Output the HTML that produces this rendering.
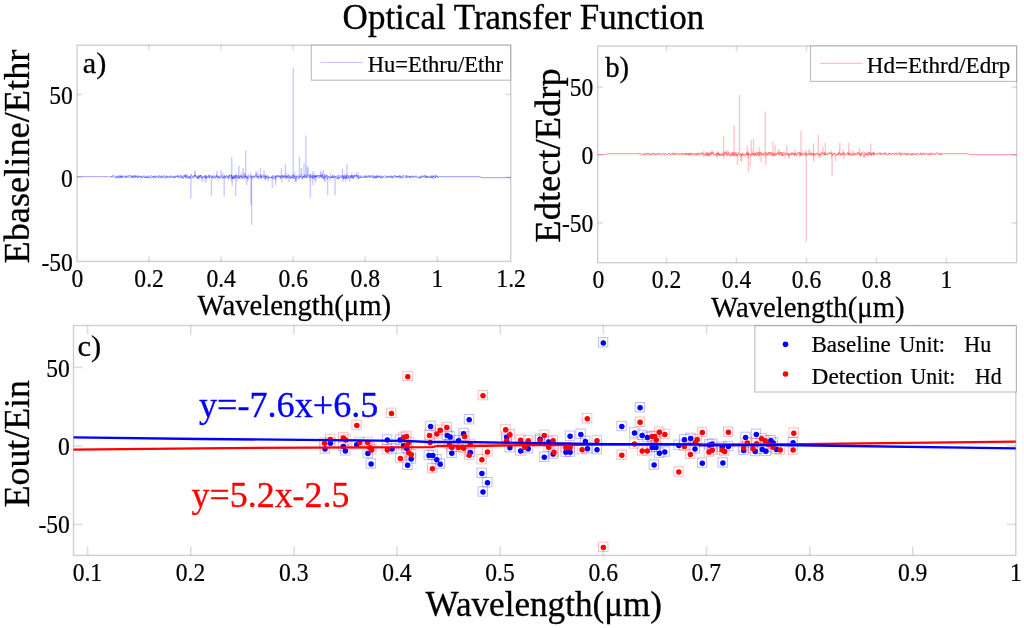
<!DOCTYPE html>
<html lang="en"><head><meta charset="utf-8"><title>Optical Transfer Function</title>
<style>
html,body{margin:0;padding:0;background:#fff;}
body{width:1024px;height:628px;overflow:hidden;}
svg text{font-family:"Liberation Serif", serif;white-space:pre;}
</style></head><body>
<svg width="1024" height="628" viewBox="0 0 1024 628" style="display:block;filter:blur(0.35px)">
<rect width="1024" height="628" fill="#fff"/>
<g id="plot-a">
<polyline points="77.1,176.6 108.0,176.6" fill="none" stroke="#0000ff" stroke-opacity="0.32" stroke-width="1.1" stroke-linejoin="round"/>
<polyline points="439.0,176.6 480.0,176.6 481.2,177.6 510.7,177.6" fill="none" stroke="#0000ff" stroke-opacity="0.32" stroke-width="1.1" stroke-linejoin="round"/>
<polyline points="108.0,176.9 108.5,176.8 108.9,176.9 109.4,176.8 109.8,177.2 110.3,176.6 110.7,177.2 111.2,176.3 111.6,177.4 112.1,177.1 112.5,175.3 113.0,175.5 113.4,176.0 113.9,176.6 114.3,176.9 114.8,176.8 115.2,176.7 115.7,178.2 116.1,177.8 116.6,176.3 117.0,176.2 117.5,177.6 117.9,177.8 118.4,178.1 118.8,175.4 119.3,178.0 119.7,178.2 120.2,175.6 120.6,177.6 121.1,175.6 121.5,178.1 122.0,175.7 122.4,175.7 122.9,177.6 123.3,177.0 123.8,175.9 124.2,175.8 124.7,175.7 125.1,176.0 125.6,178.1 126.0,176.2 126.5,176.0 126.9,177.8 127.4,175.7 127.8,176.0 128.3,177.6 128.7,176.2 129.2,175.6 129.6,176.1 130.1,176.4 130.5,178.1 131.0,177.0 131.4,175.9 131.9,178.0 132.3,176.1 132.8,177.5 133.2,175.9 133.6,177.9 134.1,176.6 134.5,175.5 135.0,176.1 135.4,176.1 135.9,177.1 136.3,175.9 136.8,175.6 137.2,177.0 137.7,177.1 138.1,178.0 138.6,175.4 139.0,176.6 139.5,175.9 139.9,177.0 140.4,176.4 140.8,178.2 141.3,177.3 141.7,175.8 142.2,177.6 142.6,177.7 143.1,176.7 143.5,176.2 144.0,175.4 144.4,177.6 144.9,177.6 145.3,177.7 145.8,176.3 146.2,178.1 146.7,176.5 147.1,178.0 147.6,177.2 148.0,177.1 148.5,175.4 148.9,178.4 149.4,177.5 149.8,177.6 150.3,176.6 150.7,175.5 151.2,175.3 151.6,176.7 152.1,177.4 152.5,177.2 153.0,176.0 153.4,177.2 153.9,176.0 154.3,177.2 154.8,177.8 155.2,177.2 155.7,176.6 156.1,177.8 156.6,176.5 157.0,176.3 157.5,176.8 157.9,177.7 158.4,177.9 158.8,176.0 159.3,176.2 159.7,176.6 160.2,176.8 160.6,177.6 161.1,176.7 161.5,175.6 162.0,175.7 162.4,177.0 162.9,177.5 163.3,176.7 163.8,175.8 164.2,175.1 164.7,176.6 165.1,177.4 165.6,178.5 166.0,175.7 166.5,175.6 166.9,177.4 167.4,176.1 167.8,177.4 168.3,177.1 168.7,176.5 169.2,178.0 169.6,178.0 170.1,175.7 170.5,177.2 171.0,176.4 171.4,177.9 171.9,178.1 172.3,177.2 172.8,177.4 173.2,177.2 173.7,176.0 174.1,178.2 174.6,176.9 175.0,176.3 175.5,177.8 175.9,175.6 176.4,176.9 176.8,176.8 177.3,175.2 177.7,175.6 178.2,177.8 178.6,175.5 179.1,177.6 179.5,177.5 180.0,176.8 180.4,174.8 180.9,176.9 181.3,177.9 181.8,176.9 182.2,177.1 182.7,176.2 183.1,178.7 183.6,178.5 184.0,176.9 184.5,175.4 184.9,176.8 185.4,174.5 185.8,176.9 186.3,178.3 186.7,176.8 187.2,174.7 187.6,176.4 188.1,178.8 188.5,176.7 189.0,176.5 189.4,178.7 189.9,175.9 190.3,177.4 190.8,175.0 191.2,174.5 191.7,175.5 192.1,175.9 192.6,177.4 193.0,177.9 193.5,176.9 193.9,175.3 194.4,176.5 194.8,176.4 195.3,175.2 195.7,177.4 196.2,176.9 196.6,177.3 197.1,175.5 197.5,178.3 198.0,175.9 198.4,178.8 198.9,179.2 199.3,175.0 199.8,177.9 200.2,174.9 200.7,176.4 201.1,175.0 201.6,177.7 202.0,177.3 202.5,178.2 202.9,176.8 203.4,176.8 203.8,175.9 204.3,175.6 204.7,176.9 205.2,175.4 205.6,175.6 206.1,178.8 206.5,175.2 207.0,178.6 207.4,177.9 207.9,176.7 208.3,176.5 208.8,174.8 209.2,178.2 209.7,176.6 210.1,176.4 210.6,175.4 211.0,174.8 211.5,178.0 211.9,178.3 212.4,176.4 212.8,176.8 213.3,178.0 213.7,178.5 214.2,177.9 214.6,176.4 215.1,178.3 215.5,177.9 216.0,176.4 216.4,175.1 216.9,176.7 217.3,177.3 217.8,175.9 218.2,177.4 218.7,177.4 219.1,176.9 219.6,178.5 220.0,177.5 220.5,178.5 220.9,177.8 221.4,176.4 221.8,175.5 222.3,175.1 222.7,178.5 223.2,176.8 223.6,177.1 224.1,177.4 224.5,175.0 225.0,177.9 225.4,178.6 225.9,176.7 226.3,176.8 226.8,174.9 227.2,176.5 227.7,177.2 228.1,175.9 228.6,177.1 229.0,177.7 229.5,174.7 229.9,174.9 230.4,177.9 230.8,178.5 231.3,174.9 231.7,178.7 232.2,178.5 232.6,176.7 233.1,175.7 233.5,178.7 234.0,176.7 234.4,178.1 234.9,175.2 235.3,176.6 235.8,174.9 236.2,175.2 236.7,177.5 237.1,175.8 237.6,176.5 238.0,176.9 238.5,178.7 238.9,175.7 239.4,178.5 239.8,177.3 240.3,175.8 240.7,177.1 241.2,177.4 241.6,175.5 242.1,178.8 242.5,178.4 243.0,176.2 243.4,177.1 243.9,176.9 244.3,175.7 244.8,176.9 245.2,176.5 245.7,176.1 246.1,177.4 246.6,175.7 247.0,177.6 247.5,177.5 247.9,176.6 248.4,177.6 248.8,177.2 249.3,176.3 249.7,177.4 250.2,176.6 250.6,175.8 251.1,175.7 251.5,177.0 252.0,177.3 252.4,177.5 252.9,176.1 253.3,175.7 253.8,177.4 254.2,176.2 254.7,176.4 255.1,176.5 255.6,177.3 256.0,177.9 256.5,177.9 256.9,177.6 257.4,176.3 257.8,177.9 258.3,176.2 258.7,176.5 259.2,176.5 259.6,176.0 260.1,177.6 260.5,177.7 261.0,176.0 261.4,177.8 261.9,175.6 262.3,176.9 262.8,178.0 263.2,177.6 263.7,176.9 264.1,175.7 264.6,177.4 265.0,175.7 265.5,175.9 265.9,177.2 266.4,176.1 266.8,176.9 267.3,176.5 267.7,178.0 268.2,176.8 268.6,177.4 269.1,177.9 269.5,177.6 270.0,177.7 270.4,177.7 270.9,178.0 271.3,176.9 271.8,177.6 272.2,176.6 272.7,177.4 273.1,176.5 273.6,176.0 274.0,176.3 274.5,175.7 274.9,175.8 275.4,177.5 275.8,175.7 276.3,177.0 276.7,175.6 277.2,176.0 277.6,176.1 278.1,177.0 278.5,176.0 279.0,176.0 279.4,176.3 279.9,177.6 280.3,176.2 280.8,177.9 281.2,176.9 281.7,176.8 282.1,175.6 282.6,177.6 283.0,176.9 283.5,176.2 283.9,177.2 284.4,175.5 284.8,176.5 285.3,177.4 285.7,175.9 286.2,176.3 286.6,177.8 287.1,177.2 287.5,176.2 288.0,175.9 288.4,175.5 288.9,177.7 289.3,175.7 289.8,177.4 290.2,176.7 290.7,178.0 291.1,177.7 291.6,177.5 292.0,177.9 292.5,177.6 292.9,176.9 293.4,175.9 293.8,176.3 294.3,175.7 294.7,176.7 295.2,176.4 295.6,175.8 296.1,176.7 296.5,177.7 297.0,175.5 297.4,177.3 297.9,177.0 298.3,175.5 298.8,177.6 299.2,177.1 299.7,176.5 300.1,176.3 300.6,176.5 301.0,176.2 301.5,177.4 301.9,177.9 302.4,177.4 302.8,177.6 303.3,175.9 303.7,177.3 304.2,176.0 304.6,177.7 305.1,175.7 305.5,175.9 306.0,176.6 306.4,177.9 306.9,176.8 307.3,177.5 307.8,176.5 308.2,176.6 308.7,177.5 309.1,177.8 309.6,177.2 310.0,176.3 310.5,175.5 310.9,176.8 311.4,177.9 311.8,175.6 312.3,178.2 312.7,176.3 313.2,175.6 313.6,178.5 314.1,177.5 314.5,175.8 315.0,177.2 315.4,175.4 315.9,177.1 316.3,176.2 316.8,176.3 317.2,175.5 317.7,175.6 318.1,176.9 318.6,177.0 319.0,178.2 319.5,177.9 319.9,175.5 320.4,176.1 320.8,175.9 321.3,177.9 321.7,177.0 322.2,175.2 322.6,178.5 323.1,177.3 323.5,177.4 324.0,176.4 324.4,177.8 324.9,176.7 325.3,176.5 325.8,175.8 326.2,176.1 326.7,176.3 327.1,175.4 327.6,175.7 328.0,177.1 328.5,176.5 328.9,177.4 329.4,177.6 329.8,178.3 330.3,177.9 330.7,176.6 331.2,178.0 331.6,176.9 332.1,178.0 332.5,175.5 333.0,178.0 333.4,177.1 333.9,176.2 334.3,175.5 334.8,176.6 335.2,176.5 335.7,177.4 336.1,176.0 336.6,176.5 337.0,175.5 337.5,178.2 337.9,177.9 338.4,177.7 338.8,177.5 339.3,178.0 339.7,177.7 340.2,176.9 340.6,175.3 341.1,176.2 341.5,175.5 342.0,177.7 342.4,176.4 342.9,175.4 343.3,175.8 343.8,179.0 344.2,176.7 344.7,175.8 345.1,178.8 345.6,178.5 346.0,176.7 346.5,178.7 346.9,175.3 347.4,175.2 347.8,174.5 348.3,178.0 348.7,178.8 349.2,177.9 349.6,177.8 350.1,176.5 350.5,175.4 351.0,177.9 351.4,175.2 351.9,177.6 352.3,176.2 352.8,178.8 353.2,175.4 353.7,179.0 354.1,175.7 354.6,174.7 355.0,176.5 355.5,177.0 355.9,177.3 356.4,175.5 356.8,174.7 357.3,178.1 357.7,175.7 358.2,175.2 358.6,179.3 359.1,177.7 359.5,178.4 360.0,175.6 360.4,177.3 360.9,177.3 361.3,176.9 361.8,177.9 362.2,176.9 362.7,175.8 363.1,175.7 363.6,175.9 364.0,177.7 364.5,177.7 364.9,176.8 365.4,177.1 365.8,175.3 366.3,177.5 366.7,178.0 367.2,175.7 367.6,176.6 368.1,176.0 368.5,175.4 369.0,177.0 369.4,177.8 369.9,175.6 370.3,175.3 370.8,177.2 371.2,176.0 371.7,175.4 372.1,175.7 372.6,175.7 373.0,177.9 373.5,175.3 373.9,176.4 374.4,178.4 374.8,176.8 375.3,178.4 375.7,176.7 376.2,175.3 376.6,178.1 377.1,176.4 377.5,176.6 378.0,175.3 378.4,177.7 378.9,175.9 379.3,177.0 379.8,176.7 380.2,176.4 380.7,178.4 381.1,175.3 381.6,177.3 382.0,176.3 382.5,178.0 382.9,178.1 383.4,176.4 383.8,176.4 384.3,175.9 384.7,175.8 385.2,175.7 385.6,175.9 386.1,176.2 386.5,178.4 387.0,178.0 387.4,176.4 387.9,177.4 388.3,176.1 388.8,176.2 389.2,177.9 389.7,176.2 390.1,175.9 390.6,176.4 391.0,177.4 391.5,175.6 391.9,176.5 392.4,177.8 392.8,177.5 393.3,175.7 393.7,176.1 394.2,175.9 394.6,175.6 395.1,176.6 395.5,175.9 396.0,176.2 396.4,177.2 396.9,176.1 397.3,177.3 397.8,176.5 398.2,176.1 398.7,176.4 399.1,175.6 399.6,177.0 400.0,178.5 400.5,177.4 400.9,175.8 401.4,177.4 401.8,178.1 402.3,177.3 402.7,176.5 403.2,175.2 403.6,176.2 404.1,176.0 404.5,176.4 405.0,175.6 405.4,175.9 405.9,176.2 406.3,175.5 406.8,177.5 407.2,177.5 407.7,176.4 408.1,176.5 408.6,176.8 409.0,176.7 409.5,176.1 409.9,177.9 410.4,176.1 410.8,175.9 411.3,177.1 411.7,176.4 412.2,178.1 412.6,177.2 413.1,176.5 413.5,176.1 414.0,177.9 414.4,178.0 414.9,176.8 415.3,176.5 415.8,176.0 416.2,176.2 416.7,176.2 417.1,176.4 417.6,176.8 418.0,177.0 418.5,177.0 418.9,178.4 419.4,176.3 419.8,176.2 420.3,177.5 420.7,178.4 421.2,175.6 421.6,176.8 422.1,176.4 422.5,177.7 423.0,175.9 423.4,176.2 423.9,176.8 424.3,175.3 424.8,175.4 425.2,175.5 425.7,177.7 426.1,175.6 426.6,178.1 427.0,176.0 427.5,177.8 427.9,177.5 428.4,177.5 428.8,176.2 429.3,178.0 429.7,177.0 430.2,177.5 430.6,177.9 431.1,175.5 431.5,177.4 432.0,175.7 432.4,178.4 432.9,175.5 433.3,176.5 433.8,176.4 434.2,178.5 434.7,177.6 435.1,175.2 435.6,177.6 436.0,175.5 436.5,175.1 436.9,176.7 437.4,176.1 437.8,178.0 438.3,176.4 438.7,177.7" fill="none" stroke="#0000ff" stroke-opacity="0.3" stroke-width="0.9" stroke-linejoin="round"/>
<polyline points="110.5,177.0 111.1,176.4 111.6,176.6 112.2,177.3 112.8,177.0 113.3,175.9 113.9,175.9 114.5,175.6 115.1,175.7 115.6,176.4 116.2,177.7 116.8,177.6 117.3,176.0 117.9,177.7 118.5,176.7 119.0,176.4 119.6,176.1 120.2,175.9 120.8,177.4 121.3,176.6 121.9,176.8 122.5,175.9 123.0,177.7 123.6,177.1 124.2,176.5 124.7,177.1 125.3,176.3 125.9,176.8 126.5,176.8 127.0,176.5 127.6,175.8 128.2,176.4 128.7,175.3 129.3,175.6 129.9,175.1 130.4,176.2 131.0,175.2 131.6,175.7 132.2,176.7 132.7,176.7 133.3,175.6 133.9,176.3 134.4,177.7 135.0,175.0 135.6,177.8 136.1,175.9 136.7,177.0 137.3,177.7 137.9,175.9 138.4,177.3 139.0,177.1 139.6,176.9 140.1,177.0 140.7,177.6 141.3,176.2 141.8,177.5 142.4,177.6 143.0,177.2 143.6,176.3 144.1,176.3 144.7,177.2 145.3,177.5 145.8,176.3 146.4,177.7 147.0,177.0 147.5,177.7 148.1,176.6 148.7,177.6 149.3,177.0 149.8,176.6 150.4,176.9 151.0,178.2 151.5,178.2 152.1,176.9 152.7,176.4 153.2,176.3 153.8,178.3 154.4,176.9 155.0,175.5 155.5,177.5 156.1,175.9 156.7,176.2 157.2,175.6 157.8,176.2 158.4,177.7 158.9,178.3 159.5,175.2 160.1,176.6 160.7,177.4 161.2,175.9 161.8,178.3 162.4,176.2 162.9,176.6 163.5,177.9 164.1,177.3 164.6,176.7 165.2,177.7 165.8,176.7 166.4,177.7 166.9,176.9 167.5,176.5 168.1,177.2 168.6,176.9 169.2,176.4 169.8,176.3 170.3,176.4 170.9,175.8 171.5,176.9 172.1,175.6 172.6,176.2 173.2,177.1 173.8,177.8 174.3,176.3 174.9,177.2 175.5,177.1 176.0,176.6 176.6,176.2 177.2,176.5 177.8,176.5 178.3,175.9 178.9,176.2 179.5,176.9 180.0,178.0 180.6,177.9 181.2,177.6 181.7,175.5 182.3,178.0 182.9,178.1 183.5,175.2 184.0,175.7 184.6,176.1 185.2,175.7 185.7,178.0 186.3,175.5 186.9,176.9 187.4,176.9 188.0,177.8 188.6,177.3 189.2,177.2 189.7,176.5 190.3,177.5 190.9,178.2 191.4,178.0 192.0,178.3 192.6,176.6 193.1,177.2 193.7,177.9 194.3,175.3 194.9,175.4 195.4,175.2 196.0,175.5 196.6,177.2 197.1,178.3 197.7,178.3 198.3,178.1 198.8,175.9 199.4,176.6 200.0,176.2 200.6,175.5 201.1,178.2 201.7,177.6 202.3,176.4 202.8,178.1 203.4,177.3 204.0,176.7 204.5,177.8 205.1,176.3 205.7,177.9 206.3,176.8 206.8,177.2 207.4,176.4 208.0,176.4 208.5,175.6 209.1,178.2 209.7,176.0 210.2,175.6 210.8,177.2 211.4,176.9 212.0,177.0 212.5,176.2 213.1,178.3 213.7,176.8 214.2,175.8 214.8,175.9 215.4,176.4 215.9,178.2 216.5,176.3 217.1,176.5 217.7,177.3 218.2,177.3 218.8,176.0 219.4,178.3 219.9,175.8 220.5,176.1 221.1,176.0 221.6,177.2 222.2,177.1 222.8,178.2 223.4,178.1 223.9,176.7 224.5,177.5 225.1,176.0 225.6,177.5 226.2,177.3 226.8,177.5 227.3,176.2 227.9,178.3 228.5,179.2 229.1,175.0 229.6,176.4 230.2,175.6 230.8,174.5 231.3,174.9 231.9,175.1 232.5,178.5 233.0,176.8 233.6,179.0 234.2,175.4 234.8,178.9 235.3,176.9 235.9,175.2 236.5,178.1 237.0,178.3 237.6,177.0 238.2,174.8 238.7,175.2 239.3,178.5 239.9,176.5 240.5,176.3 241.0,175.2 241.6,176.9 242.2,178.1 242.7,177.0 243.3,178.1 243.9,178.4 244.4,176.9 245.0,179.1 245.6,176.4 246.2,178.0 246.7,178.1 247.3,178.6 247.9,176.1 248.4,174.8 249.0,174.6 249.6,175.1 250.1,175.0 250.7,177.0 251.3,178.4 251.9,179.1 252.4,176.3 253.0,175.8 253.6,177.8 254.1,178.4 254.7,175.8 255.3,176.5 255.8,174.5 256.4,176.1 257.0,176.8 257.6,176.0 258.1,177.0 258.7,179.1 259.3,175.8 259.8,175.9 260.4,174.7 261.0,178.9 261.5,177.8 262.1,175.0 262.7,174.7 263.3,176.5 263.8,177.7 264.4,178.1 265.0,178.8 265.5,174.7 266.1,178.6 266.7,176.7 267.2,175.5 267.8,174.9 268.4,178.7 269.0,176.9 269.5,176.6 270.1,177.8 270.7,178.5 271.2,177.2 271.8,176.7 272.4,175.1 272.9,176.4 273.5,177.4 274.1,179.1 274.7,176.9 275.2,176.3 275.8,179.0 276.4,177.5 276.9,175.1 277.5,175.2 278.1,177.2 278.6,175.5 279.2,176.7 279.8,175.2 280.4,178.9 280.9,177.7 281.5,175.1 282.1,176.8 282.6,175.1 283.2,177.0 283.8,178.5 284.3,174.8 284.9,175.7 285.5,178.6 286.1,176.4 286.6,178.4 287.2,175.4 287.8,178.5 288.3,174.7 288.9,174.4 289.5,175.1 290.0,175.4 290.6,178.8 291.2,177.0 291.8,175.2 292.3,178.2 292.9,174.5 293.5,179.0 294.0,174.8 294.6,178.7 295.2,177.9 295.7,177.6 296.3,177.3 296.9,178.6 297.5,179.1 298.0,179.0 298.6,179.2 299.2,175.7 299.7,178.6 300.3,178.1 300.9,174.4 301.4,174.4 302.0,178.9 302.6,178.5 303.2,176.3 303.7,177.5 304.3,174.8 304.9,175.2 305.4,177.7 306.0,178.4 306.6,175.8 307.1,174.6 307.7,175.9 308.3,175.9 308.9,175.2 309.4,174.7 310.0,177.4 310.6,174.4 311.1,176.1 311.7,176.1 312.3,176.4 312.8,174.7 313.4,178.8 314.0,179.1 314.6,177.9 315.1,174.9 315.7,177.7 316.3,175.1 316.8,177.0 317.4,175.4 318.0,177.4 318.5,174.8 319.1,176.1 319.7,175.1 320.3,176.8 320.8,175.3 321.4,176.5 322.0,174.7 322.5,174.7 323.1,178.1 323.7,179.0 324.2,176.4 324.8,174.8 325.4,174.6 326.0,177.6 326.5,174.7 327.1,179.0 327.7,177.2 328.2,176.7 328.8,177.2 329.4,176.3 329.9,177.2 330.5,178.1 331.1,177.9 331.7,176.7 332.2,177.9 332.8,175.1 333.4,177.4 333.9,177.1 334.5,176.5 335.1,177.3 335.6,176.5 336.2,177.7 336.8,179.1 337.4,177.7 337.9,179.1 338.5,174.7 339.1,178.3 339.6,177.9 340.2,176.6 340.8,176.6 341.3,177.8 341.9,177.7 342.5,177.0 343.1,175.3 343.6,178.5 344.2,178.5 344.8,176.3 345.3,174.8 345.9,178.1 346.5,175.4 347.0,178.7 347.6,177.5 348.2,175.8 348.8,177.6 349.3,175.7 349.9,175.5 350.5,176.6 351.0,178.3 351.6,177.3 352.2,175.0 352.7,176.5 353.3,176.3 353.9,176.3 354.5,176.8 355.0,174.9 355.6,175.8 356.2,175.2 356.7,176.1 357.3,176.8 357.9,177.8 358.4,178.3 359.0,176.8 359.6,176.2 360.2,175.5 360.7,177.8 361.3,177.1 361.9,177.3 362.4,177.5 363.0,177.0 363.6,177.7 364.1,175.9 364.7,176.5 365.3,177.6 365.9,175.8 366.4,176.3 367.0,176.5 367.6,177.6 368.1,177.5 368.7,175.8 369.3,175.8 369.8,176.5 370.4,177.4 371.0,175.8 371.6,176.1 372.1,177.5 372.7,177.0 373.3,177.7 373.8,177.0 374.4,176.2 375.0,177.3 375.5,176.3 376.1,177.9 376.7,175.9 377.3,177.7 377.8,177.8 378.4,176.2 379.0,176.2 379.5,175.9 380.1,177.7 380.7,177.4 381.2,177.1 381.8,177.7 382.4,177.2 383.0,176.7 383.5,176.4 384.1,177.1 384.7,177.6 385.2,177.9 385.8,176.5 386.4,176.5 386.9,176.2 387.5,176.1 388.1,177.2 388.7,176.9 389.2,175.7 389.8,176.6 390.4,176.8 390.9,177.3 391.5,176.3 392.1,178.4 392.6,176.2 393.2,177.1 393.8,178.2 394.4,176.0 394.9,175.3 395.5,177.0 396.1,176.5 396.6,175.9 397.2,178.0 397.8,176.0 398.3,177.2 398.9,175.4 399.5,177.4 400.1,175.6 400.6,176.6 401.2,178.2 401.8,176.8 402.3,177.3 402.9,175.9 403.5,177.0 404.0,178.3 404.6,177.6 405.2,177.9 405.8,177.8 406.3,175.5 406.9,178.2 407.5,176.2 408.0,175.5 408.6,176.8 409.2,177.7 409.7,175.9 410.3,177.6 410.9,177.7 411.5,177.2 412.0,175.7 412.6,175.7 413.2,177.0 413.7,176.4 414.3,176.4 414.9,175.7 415.4,177.1 416.0,175.7 416.6,177.8 417.2,177.3 417.7,177.9 418.3,177.5 418.9,177.5 419.4,177.8 420.0,177.7 420.6,176.5 421.1,177.7 421.7,177.0 422.3,175.7 422.9,175.8 423.4,176.2 424.0,176.0 424.6,177.4 425.1,176.0 425.7,175.7 426.3,177.3 426.8,177.1 427.4,175.9 428.0,176.2 428.6,176.7 429.1,177.5 429.7,176.6 430.3,176.0 430.8,176.6 431.4,177.6 432.0,177.9 432.5,176.9 433.1,177.4 433.7,175.7 434.3,177.2 434.8,177.5 435.4,177.7 436.0,177.2 436.5,176.4 437.1,175.9 437.7,176.3 438.2,176.2" fill="none" stroke="#0000ff" stroke-opacity="0.28" stroke-width="0.9" stroke-linejoin="round"/>
<line x1="295.3" y1="176.8" x2="295.3" y2="181.2" stroke="#0000ff" stroke-opacity="0.17" stroke-width="1.3"/>
<line x1="351.8" y1="176.8" x2="351.8" y2="172.2" stroke="#0000ff" stroke-opacity="0.17" stroke-width="1.3"/>
<line x1="322.3" y1="176.8" x2="322.3" y2="172.8" stroke="#0000ff" stroke-opacity="0.17" stroke-width="1.3"/>
<line x1="344.5" y1="176.8" x2="344.5" y2="173.6" stroke="#0000ff" stroke-opacity="0.17" stroke-width="1.3"/>
<line x1="338.7" y1="176.8" x2="338.7" y2="180.5" stroke="#0000ff" stroke-opacity="0.17" stroke-width="1.3"/>
<line x1="286.6" y1="176.8" x2="286.6" y2="172.6" stroke="#0000ff" stroke-opacity="0.17" stroke-width="1.3"/>
<line x1="257.2" y1="176.8" x2="257.2" y2="172.0" stroke="#0000ff" stroke-opacity="0.17" stroke-width="1.3"/>
<line x1="320.5" y1="176.8" x2="320.5" y2="172.5" stroke="#0000ff" stroke-opacity="0.17" stroke-width="1.3"/>
<line x1="197.7" y1="176.8" x2="197.7" y2="179.4" stroke="#0000ff" stroke-opacity="0.17" stroke-width="1.3"/>
<line x1="185.3" y1="176.8" x2="185.3" y2="174.0" stroke="#0000ff" stroke-opacity="0.17" stroke-width="1.3"/>
<line x1="223.1" y1="176.8" x2="223.1" y2="172.2" stroke="#0000ff" stroke-opacity="0.17" stroke-width="1.3"/>
<line x1="236.2" y1="176.8" x2="236.2" y2="173.1" stroke="#0000ff" stroke-opacity="0.17" stroke-width="1.3"/>
<line x1="305.0" y1="176.8" x2="305.0" y2="174.1" stroke="#0000ff" stroke-opacity="0.17" stroke-width="1.3"/>
<line x1="356.4" y1="176.8" x2="356.4" y2="171.9" stroke="#0000ff" stroke-opacity="0.17" stroke-width="1.3"/>
<line x1="343.2" y1="176.8" x2="343.2" y2="179.1" stroke="#0000ff" stroke-opacity="0.17" stroke-width="1.3"/>
<line x1="258.4" y1="176.8" x2="258.4" y2="173.9" stroke="#0000ff" stroke-opacity="0.17" stroke-width="1.3"/>
<line x1="243.7" y1="176.8" x2="243.7" y2="172.9" stroke="#0000ff" stroke-opacity="0.17" stroke-width="1.3"/>
<line x1="310.3" y1="176.8" x2="310.3" y2="173.7" stroke="#0000ff" stroke-opacity="0.17" stroke-width="1.3"/>
<line x1="329.9" y1="176.8" x2="329.9" y2="180.9" stroke="#0000ff" stroke-opacity="0.17" stroke-width="1.3"/>
<line x1="217.7" y1="176.8" x2="217.7" y2="181.0" stroke="#0000ff" stroke-opacity="0.17" stroke-width="1.3"/>
<line x1="195.1" y1="176.8" x2="195.1" y2="171.9" stroke="#0000ff" stroke-opacity="0.17" stroke-width="1.3"/>
<line x1="248.3" y1="176.8" x2="248.3" y2="179.1" stroke="#0000ff" stroke-opacity="0.17" stroke-width="1.3"/>
<line x1="324.4" y1="176.8" x2="324.4" y2="180.1" stroke="#0000ff" stroke-opacity="0.17" stroke-width="1.3"/>
<line x1="333.9" y1="176.8" x2="333.9" y2="179.1" stroke="#0000ff" stroke-opacity="0.17" stroke-width="1.3"/>
<line x1="217.0" y1="176.8" x2="217.0" y2="174.3" stroke="#0000ff" stroke-opacity="0.17" stroke-width="1.3"/>
<line x1="228.6" y1="176.8" x2="228.6" y2="180.0" stroke="#0000ff" stroke-opacity="0.17" stroke-width="1.3"/>
<line x1="247.8" y1="176.8" x2="247.8" y2="181.2" stroke="#0000ff" stroke-opacity="0.17" stroke-width="1.3"/>
<line x1="204.1" y1="176.8" x2="204.1" y2="181.4" stroke="#0000ff" stroke-opacity="0.17" stroke-width="1.3"/>
<line x1="191.5" y1="176.8" x2="191.5" y2="174.0" stroke="#0000ff" stroke-opacity="0.17" stroke-width="1.3"/>
<line x1="275.8" y1="176.8" x2="275.8" y2="181.6" stroke="#0000ff" stroke-opacity="0.17" stroke-width="1.3"/>
<line x1="245.2" y1="176.8" x2="245.2" y2="173.7" stroke="#0000ff" stroke-opacity="0.17" stroke-width="1.3"/>
<line x1="241.1" y1="176.8" x2="241.1" y2="172.4" stroke="#0000ff" stroke-opacity="0.17" stroke-width="1.3"/>
<line x1="295.9" y1="176.8" x2="295.9" y2="181.8" stroke="#0000ff" stroke-opacity="0.17" stroke-width="1.3"/>
<line x1="213.6" y1="176.8" x2="213.6" y2="174.4" stroke="#0000ff" stroke-opacity="0.17" stroke-width="1.3"/>
<line x1="291.3" y1="176.8" x2="291.3" y2="179.1" stroke="#0000ff" stroke-opacity="0.17" stroke-width="1.3"/>
<line x1="316.1" y1="176.8" x2="316.1" y2="181.3" stroke="#0000ff" stroke-opacity="0.17" stroke-width="1.3"/>
<line x1="265.7" y1="176.8" x2="265.7" y2="179.4" stroke="#0000ff" stroke-opacity="0.17" stroke-width="1.3"/>
<line x1="358.3" y1="176.8" x2="358.3" y2="172.4" stroke="#0000ff" stroke-opacity="0.17" stroke-width="1.3"/>
<line x1="244.2" y1="176.8" x2="244.2" y2="174.2" stroke="#0000ff" stroke-opacity="0.17" stroke-width="1.3"/>
<line x1="314.5" y1="176.8" x2="314.5" y2="172.8" stroke="#0000ff" stroke-opacity="0.17" stroke-width="1.3"/>
<line x1="324.5" y1="176.8" x2="324.5" y2="174.1" stroke="#0000ff" stroke-opacity="0.17" stroke-width="1.3"/>
<line x1="251.0" y1="176.8" x2="251.0" y2="172.2" stroke="#0000ff" stroke-opacity="0.17" stroke-width="1.3"/>
<line x1="237.2" y1="176.8" x2="237.2" y2="181.6" stroke="#0000ff" stroke-opacity="0.17" stroke-width="1.3"/>
<line x1="294.8" y1="176.8" x2="294.8" y2="171.9" stroke="#0000ff" stroke-opacity="0.17" stroke-width="1.3"/>
<line x1="265.3" y1="176.8" x2="265.3" y2="180.9" stroke="#0000ff" stroke-opacity="0.17" stroke-width="1.3"/>
<line x1="241.2" y1="176.8" x2="241.2" y2="179.8" stroke="#0000ff" stroke-opacity="0.17" stroke-width="1.3"/>
<line x1="256.5" y1="176.8" x2="256.5" y2="174.3" stroke="#0000ff" stroke-opacity="0.17" stroke-width="1.3"/>
<line x1="330.5" y1="176.8" x2="330.5" y2="172.8" stroke="#0000ff" stroke-opacity="0.17" stroke-width="1.3"/>
<line x1="273.4" y1="176.8" x2="273.4" y2="179.5" stroke="#0000ff" stroke-opacity="0.17" stroke-width="1.3"/>
<line x1="272.1" y1="176.8" x2="272.1" y2="179.2" stroke="#0000ff" stroke-opacity="0.17" stroke-width="1.3"/>
<line x1="325.7" y1="176.8" x2="325.7" y2="180.9" stroke="#0000ff" stroke-opacity="0.17" stroke-width="1.3"/>
<line x1="302.5" y1="176.8" x2="302.5" y2="180.0" stroke="#0000ff" stroke-opacity="0.17" stroke-width="1.3"/>
<line x1="309.7" y1="176.8" x2="309.7" y2="181.3" stroke="#0000ff" stroke-opacity="0.17" stroke-width="1.3"/>
<line x1="231.9" y1="176.8" x2="231.9" y2="181.7" stroke="#0000ff" stroke-opacity="0.17" stroke-width="1.3"/>
<line x1="245.2" y1="176.8" x2="245.2" y2="173.0" stroke="#0000ff" stroke-opacity="0.17" stroke-width="1.3"/>
<line x1="190.8" y1="176.6" x2="190.8" y2="198.4" stroke="#0000ff" stroke-opacity="0.2" stroke-width="1.5"/>
<line x1="211.4" y1="176.6" x2="211.4" y2="196.0" stroke="#0000ff" stroke-opacity="0.2" stroke-width="1.5"/>
<line x1="224.2" y1="176.6" x2="224.2" y2="196.8" stroke="#0000ff" stroke-opacity="0.2" stroke-width="1.5"/>
<line x1="231.7" y1="176.6" x2="231.7" y2="157.0" stroke="#0000ff" stroke-opacity="0.2" stroke-width="1.5"/>
<line x1="232.2" y1="176.6" x2="232.2" y2="185.7" stroke="#0000ff" stroke-opacity="0.2" stroke-width="1.5"/>
<line x1="235.7" y1="176.6" x2="235.7" y2="196.0" stroke="#0000ff" stroke-opacity="0.2" stroke-width="1.5"/>
<line x1="238.9" y1="176.6" x2="238.9" y2="165.8" stroke="#0000ff" stroke-opacity="0.2" stroke-width="1.5"/>
<line x1="245.7" y1="176.6" x2="245.7" y2="150.4" stroke="#0000ff" stroke-opacity="0.2" stroke-width="1.5"/>
<line x1="246.8" y1="176.6" x2="246.8" y2="185.0" stroke="#0000ff" stroke-opacity="0.2" stroke-width="1.5"/>
<line x1="251.6" y1="176.6" x2="251.6" y2="224.7" stroke="#0000ff" stroke-opacity="0.2" stroke-width="1.5"/>
<line x1="251.0" y1="176.6" x2="251.0" y2="205.0" stroke="#0000ff" stroke-opacity="0.2" stroke-width="1.5"/>
<line x1="272.3" y1="176.6" x2="272.3" y2="188.0" stroke="#0000ff" stroke-opacity="0.2" stroke-width="1.5"/>
<line x1="275.5" y1="176.6" x2="275.5" y2="185.0" stroke="#0000ff" stroke-opacity="0.2" stroke-width="1.5"/>
<line x1="281.4" y1="176.6" x2="281.4" y2="167.9" stroke="#0000ff" stroke-opacity="0.2" stroke-width="1.5"/>
<line x1="281.8" y1="176.6" x2="281.8" y2="182.5" stroke="#0000ff" stroke-opacity="0.2" stroke-width="1.5"/>
<line x1="285.4" y1="176.6" x2="285.4" y2="164.2" stroke="#0000ff" stroke-opacity="0.2" stroke-width="1.5"/>
<line x1="293.3" y1="176.6" x2="293.3" y2="67.5" stroke="#0000ff" stroke-opacity="0.2" stroke-width="1.5"/>
<line x1="299.5" y1="176.6" x2="299.5" y2="156.7" stroke="#0000ff" stroke-opacity="0.2" stroke-width="1.5"/>
<line x1="301.5" y1="176.6" x2="301.5" y2="167.9" stroke="#0000ff" stroke-opacity="0.2" stroke-width="1.5"/>
<line x1="304.0" y1="176.6" x2="304.0" y2="163.1" stroke="#0000ff" stroke-opacity="0.2" stroke-width="1.5"/>
<line x1="305.9" y1="176.6" x2="305.9" y2="135.6" stroke="#0000ff" stroke-opacity="0.2" stroke-width="1.5"/>
<line x1="307.2" y1="176.6" x2="307.2" y2="165.8" stroke="#0000ff" stroke-opacity="0.2" stroke-width="1.5"/>
<line x1="308.3" y1="176.6" x2="308.3" y2="167.9" stroke="#0000ff" stroke-opacity="0.2" stroke-width="1.5"/>
<line x1="310.4" y1="176.6" x2="310.4" y2="197.6" stroke="#0000ff" stroke-opacity="0.2" stroke-width="1.5"/>
<line x1="312.6" y1="176.6" x2="312.6" y2="185.0" stroke="#0000ff" stroke-opacity="0.2" stroke-width="1.5"/>
<line x1="313.0" y1="176.6" x2="313.0" y2="171.0" stroke="#0000ff" stroke-opacity="0.2" stroke-width="1.5"/>
<line x1="315.2" y1="176.6" x2="315.2" y2="182.5" stroke="#0000ff" stroke-opacity="0.2" stroke-width="1.5"/>
<line x1="321.0" y1="176.6" x2="321.0" y2="170.6" stroke="#0000ff" stroke-opacity="0.2" stroke-width="1.5"/>
<line x1="323.4" y1="176.6" x2="323.4" y2="169.8" stroke="#0000ff" stroke-opacity="0.2" stroke-width="1.5"/>
<line x1="324.5" y1="176.6" x2="324.5" y2="182.5" stroke="#0000ff" stroke-opacity="0.2" stroke-width="1.5"/>
<line x1="327.6" y1="176.6" x2="327.6" y2="195.3" stroke="#0000ff" stroke-opacity="0.2" stroke-width="1.5"/>
<line x1="335.0" y1="176.6" x2="335.0" y2="195.3" stroke="#0000ff" stroke-opacity="0.2" stroke-width="1.5"/>
<line x1="342.5" y1="176.6" x2="342.5" y2="168.7" stroke="#0000ff" stroke-opacity="0.2" stroke-width="1.5"/>
<line x1="342.9" y1="176.6" x2="342.9" y2="181.7" stroke="#0000ff" stroke-opacity="0.2" stroke-width="1.5"/>
<line x1="345.7" y1="176.6" x2="345.7" y2="181.7" stroke="#0000ff" stroke-opacity="0.2" stroke-width="1.5"/>
<line x1="347.0" y1="176.6" x2="347.0" y2="164.2" stroke="#0000ff" stroke-opacity="0.2" stroke-width="1.5"/>
<line x1="349.7" y1="176.6" x2="349.7" y2="181.7" stroke="#0000ff" stroke-opacity="0.2" stroke-width="1.5"/>
<line x1="260.5" y1="176.6" x2="260.5" y2="168.0" stroke="#0000ff" stroke-opacity="0.2" stroke-width="1.5"/>
<line x1="264.0" y1="176.6" x2="264.0" y2="170.0" stroke="#0000ff" stroke-opacity="0.2" stroke-width="1.5"/>
<line x1="268.0" y1="176.6" x2="268.0" y2="181.0" stroke="#0000ff" stroke-opacity="0.2" stroke-width="1.5"/>
<line x1="195.0" y1="176.6" x2="195.0" y2="170.0" stroke="#0000ff" stroke-opacity="0.2" stroke-width="1.5"/>
<line x1="217.0" y1="176.6" x2="217.0" y2="171.0" stroke="#0000ff" stroke-opacity="0.2" stroke-width="1.5"/>
<line x1="221.0" y1="176.6" x2="221.0" y2="170.0" stroke="#0000ff" stroke-opacity="0.2" stroke-width="1.5"/>
<line x1="202.0" y1="176.6" x2="202.0" y2="182.0" stroke="#0000ff" stroke-opacity="0.2" stroke-width="1.5"/>
<line x1="206.0" y1="176.6" x2="206.0" y2="183.0" stroke="#0000ff" stroke-opacity="0.2" stroke-width="1.5"/>
<line x1="243.0" y1="176.6" x2="243.0" y2="168.0" stroke="#0000ff" stroke-opacity="0.2" stroke-width="1.5"/>
<line x1="256.0" y1="176.6" x2="256.0" y2="171.0" stroke="#0000ff" stroke-opacity="0.2" stroke-width="1.5"/>
<line x1="289.0" y1="176.6" x2="289.0" y2="182.0" stroke="#0000ff" stroke-opacity="0.2" stroke-width="1.5"/>
<line x1="296.0" y1="176.6" x2="296.0" y2="182.0" stroke="#0000ff" stroke-opacity="0.2" stroke-width="1.5"/>
<rect x="77.1" y="45.2" width="433.60" height="216.20" fill="none" stroke="#000" stroke-opacity="0.19" stroke-width="1.4"/>
<line x1="149.08" y1="261.40" x2="149.08" y2="256.20" stroke="#000" stroke-opacity="0.13" stroke-width="1.6"/>
<line x1="149.08" y1="45.20" x2="149.08" y2="50.40" stroke="#000" stroke-opacity="0.13" stroke-width="1.6"/>
<line x1="221.16" y1="261.40" x2="221.16" y2="256.20" stroke="#000" stroke-opacity="0.13" stroke-width="1.6"/>
<line x1="221.16" y1="45.20" x2="221.16" y2="50.40" stroke="#000" stroke-opacity="0.13" stroke-width="1.6"/>
<line x1="293.24" y1="261.40" x2="293.24" y2="256.20" stroke="#000" stroke-opacity="0.13" stroke-width="1.6"/>
<line x1="293.24" y1="45.20" x2="293.24" y2="50.40" stroke="#000" stroke-opacity="0.13" stroke-width="1.6"/>
<line x1="365.32" y1="261.40" x2="365.32" y2="256.20" stroke="#000" stroke-opacity="0.13" stroke-width="1.6"/>
<line x1="365.32" y1="45.20" x2="365.32" y2="50.40" stroke="#000" stroke-opacity="0.13" stroke-width="1.6"/>
<line x1="437.40" y1="261.40" x2="437.40" y2="256.20" stroke="#000" stroke-opacity="0.13" stroke-width="1.6"/>
<line x1="437.40" y1="45.20" x2="437.40" y2="50.40" stroke="#000" stroke-opacity="0.13" stroke-width="1.6"/>
<line x1="77.10" y1="94.45" x2="82.30" y2="94.45" stroke="#000" stroke-opacity="0.13" stroke-width="1.6"/>
<line x1="510.70" y1="94.45" x2="505.50" y2="94.45" stroke="#000" stroke-opacity="0.13" stroke-width="1.6"/>
<line x1="77.10" y1="177.20" x2="82.30" y2="177.20" stroke="#000" stroke-opacity="0.13" stroke-width="1.6"/>
<line x1="510.70" y1="177.20" x2="505.50" y2="177.20" stroke="#000" stroke-opacity="0.13" stroke-width="1.6"/>
</g>
<g id="plot-b">
<polyline points="597.7,154.5 606.5,154.5 607.5,153.6 638.5,153.6" fill="none" stroke="#ff0000" stroke-opacity="0.34" stroke-width="1.1" stroke-linejoin="round"/>
<polyline points="943.3,153.6 968.0,153.6 969.2,154.6 1016.6,154.6" fill="none" stroke="#ff0000" stroke-opacity="0.34" stroke-width="1.1" stroke-linejoin="round"/>
<polyline points="638.5,155.3 639.0,152.8 639.4,153.8 639.9,153.0 640.3,153.8 640.8,153.9 641.2,154.4 641.7,154.0 642.1,153.7 642.6,154.5 643.0,154.3 643.5,154.9 643.9,154.5 644.4,154.1 644.8,153.7 645.3,154.0 645.7,154.2 646.2,154.3 646.6,153.4 647.1,154.6 647.5,153.3 648.0,153.1 648.4,154.1 648.9,153.7 649.3,153.6 649.8,154.5 650.2,153.6 650.7,154.5 651.1,154.6 651.6,154.1 652.0,154.2 652.5,153.4 652.9,153.2 653.4,153.1 653.8,154.3 654.3,154.6 654.7,154.1 655.2,154.5 655.6,154.9 656.1,153.4 656.5,153.9 657.0,154.8 657.4,153.5 657.9,154.1 658.3,154.1 658.8,153.5 659.2,154.7 659.7,153.7 660.1,154.6 660.6,154.3 661.0,154.4 661.5,154.3 661.9,153.6 662.4,154.5 662.8,154.1 663.3,153.3 663.7,153.7 664.2,154.6 664.6,154.8 665.1,154.1 665.5,153.5 666.0,153.9 666.4,154.4 666.9,154.7 667.3,154.9 667.8,154.4 668.2,153.9 668.7,153.0 669.1,154.0 669.6,154.1 670.0,154.1 670.5,155.0 670.9,154.9 671.4,154.0 671.8,154.4 672.3,153.5 672.7,153.6 673.2,155.1 673.6,153.7 674.1,154.8 674.5,154.1 675.0,153.5 675.4,153.3 675.9,154.9 676.3,153.0 676.8,153.1 677.2,153.9 677.7,153.4 678.1,153.4 678.6,154.3 679.0,154.8 679.5,153.7 679.9,154.8 680.4,154.6 680.8,154.4 681.3,153.0 681.7,154.4 682.2,155.2 682.6,153.2 683.1,152.9 683.5,153.9 684.0,154.2 684.4,155.0 684.9,154.3 685.3,152.9 685.8,155.1 686.2,153.8 686.7,154.4 687.1,155.1 687.6,153.6 688.0,154.7 688.5,153.4 688.9,155.4 689.4,152.9 689.8,154.8 690.3,152.6 690.7,154.7 691.2,154.1 691.6,153.7 692.1,153.5 692.5,155.0 693.0,153.7 693.4,153.5 693.9,153.8 694.3,155.0 694.8,155.4 695.2,154.4 695.7,154.3 696.1,155.4 696.6,153.8 697.0,155.0 697.5,153.7 697.9,152.6 698.4,155.4 698.8,154.6 699.3,153.3 699.7,154.3 700.2,154.4 700.6,154.2 701.1,152.3 701.5,152.6 702.0,153.2 702.4,155.0 702.9,154.1 703.3,153.4 703.8,153.1 704.2,154.0 704.7,155.2 705.1,155.9 705.6,154.3 706.0,152.4 706.5,156.0 706.9,152.2 707.4,156.1 707.8,155.5 708.3,152.1 708.7,155.0 709.2,154.6 709.6,153.0 710.1,156.2 710.5,155.7 711.0,155.1 711.4,152.1 711.9,152.5 712.3,152.0 712.8,152.4 713.2,151.7 713.7,155.2 714.1,154.3 714.6,154.6 715.0,155.3 715.5,154.4 715.9,155.8 716.4,155.6 716.8,153.2 717.3,154.5 717.7,152.7 718.2,155.3 718.6,152.4 719.1,156.2 719.5,153.7 720.0,155.4 720.4,154.2 720.9,156.0 721.3,155.5 721.8,154.5 722.2,155.0 722.7,155.9 723.1,154.0 723.6,152.7 724.0,156.2 724.5,152.2 724.9,153.4 725.4,153.8 725.8,154.2 726.3,151.9 726.7,156.2 727.2,155.1 727.6,154.3 728.1,155.2 728.5,152.0 729.0,152.9 729.4,153.8 729.9,153.3 730.3,153.7 730.8,155.3 731.2,154.8 731.7,155.1 732.1,155.7 732.6,151.8 733.0,155.3 733.5,152.2 733.9,155.2 734.4,156.1 734.8,154.6 735.3,152.4 735.7,154.1 736.2,156.1 736.6,154.5 737.1,156.0 737.5,155.1 738.0,153.6 738.4,152.4 738.9,153.4 739.3,154.0 739.8,155.4 740.2,154.5 740.7,153.3 741.1,154.4 741.6,155.6 742.0,155.3 742.5,152.7 742.9,154.6 743.4,155.4 743.8,154.6 744.3,155.6 744.7,154.7 745.2,154.8 745.6,154.1 746.1,155.1 746.5,153.6 747.0,154.9 747.4,152.6 747.9,152.8 748.3,155.2 748.8,152.7 749.2,153.5 749.7,154.8 750.1,154.8 750.6,155.1 751.0,155.3 751.5,153.3 751.9,154.9 752.4,154.7 752.8,155.1 753.3,154.5 753.7,153.9 754.2,155.3 754.6,153.8 755.1,155.2 755.5,153.0 756.0,154.4 756.4,156.3 756.9,155.2 757.3,152.8 757.8,152.4 758.2,153.7 758.7,152.2 759.1,153.5 759.6,155.6 760.0,152.9 760.5,153.1 760.9,154.5 761.4,153.0 761.8,152.9 762.3,155.4 762.7,154.1 763.2,154.8 763.6,154.8 764.1,153.4 764.5,154.4 765.0,155.3 765.4,154.9 765.9,152.6 766.3,152.6 766.8,152.8 767.2,155.2 767.7,154.0 768.1,155.1 768.6,152.4 769.0,152.3 769.5,154.4 769.9,152.3 770.4,153.4 770.8,152.4 771.3,155.6 771.7,154.6 772.2,155.2 772.6,154.0 773.1,155.0 773.5,154.7 774.0,155.6 774.4,153.4 774.9,153.0 775.3,155.4 775.8,155.3 776.2,154.2 776.7,155.4 777.1,152.6 777.6,153.0 778.0,152.7 778.5,154.2 778.9,153.2 779.4,152.6 779.8,155.4 780.3,152.5 780.7,152.0 781.2,156.0 781.6,152.5 782.1,155.6 782.5,152.4 783.0,155.1 783.4,156.2 783.9,155.0 784.3,154.1 784.8,153.2 785.2,153.9 785.7,154.2 786.1,154.6 786.6,154.9 787.0,154.9 787.5,154.1 787.9,153.9 788.4,155.3 788.8,153.5 789.3,155.0 789.7,154.5 790.2,155.1 790.6,153.8 791.1,154.5 791.5,152.7 792.0,155.3 792.4,152.8 792.9,152.7 793.3,153.3 793.8,154.8 794.2,153.3 794.7,156.0 795.1,153.1 795.6,153.2 796.0,155.4 796.5,155.0 796.9,154.3 797.4,154.5 797.8,154.5 798.3,155.3 798.7,153.6 799.2,152.6 799.6,154.5 800.1,154.6 800.5,153.5 801.0,152.7 801.4,155.3 801.9,153.7 802.3,154.2 802.8,153.6 803.2,154.5 803.7,154.5 804.1,153.8 804.6,153.3 805.0,154.7 805.5,153.6 805.9,154.5 806.4,155.9 806.8,155.1 807.3,154.9 807.7,153.2 808.2,154.4 808.6,155.0 809.1,153.1 809.5,152.9 810.0,154.0 810.4,155.5 810.9,153.4 811.3,152.3 811.8,155.6 812.2,153.4 812.7,155.1 813.1,153.0 813.6,154.6 814.0,154.1 814.5,154.9 814.9,154.3 815.4,154.5 815.8,156.0 816.3,155.2 816.7,153.5 817.2,152.9 817.6,153.8 818.1,154.0 818.5,154.6 819.0,154.1 819.4,155.5 819.9,154.7 820.3,153.6 820.8,154.7 821.2,152.2 821.7,152.2 822.1,153.4 822.6,153.8 823.0,152.9 823.5,153.1 823.9,154.0 824.4,152.2 824.8,155.4 825.3,153.5 825.7,154.6 826.2,155.2 826.6,154.8 827.1,155.1 827.5,155.2 828.0,153.7 828.4,154.1 828.9,153.1 829.3,153.0 829.8,152.8 830.2,152.6 830.7,153.5 831.1,153.2 831.6,154.1 832.0,152.4 832.5,155.7 832.9,154.6 833.4,153.1 833.8,153.2 834.3,153.8 834.7,153.0 835.2,155.0 835.6,155.8 836.1,155.3 836.5,155.4 837.0,155.3 837.4,153.6 837.9,155.0 838.3,152.7 838.8,152.8 839.2,152.7 839.7,153.3 840.1,155.5 840.6,154.9 841.0,153.4 841.5,153.0 841.9,155.3 842.4,154.0 842.8,154.8 843.3,154.8 843.7,152.7 844.2,152.2 844.6,155.2 845.1,155.4 845.5,154.5 846.0,154.3 846.4,155.3 846.9,154.2 847.3,152.4 847.8,153.5 848.2,155.8 848.7,152.7 849.1,153.9 849.6,153.2 850.0,155.7 850.5,154.2 850.9,154.9 851.4,155.1 851.8,152.7 852.3,155.8 852.7,155.5 853.2,154.5 853.6,154.9 854.1,153.5 854.5,154.0 855.0,155.2 855.4,153.2 855.9,152.9 856.3,153.8 856.8,154.6 857.2,152.3 857.7,152.6 858.1,153.8 858.6,152.2 859.0,152.7 859.5,155.3 859.9,154.3 860.4,153.2 860.8,154.7 861.3,155.4 861.7,152.6 862.2,152.9 862.6,154.0 863.1,153.4 863.5,153.2 864.0,152.7 864.4,152.6 864.9,152.2 865.3,155.1 865.8,153.4 866.2,155.2 866.7,154.5 867.1,153.3 867.6,153.1 868.0,154.0 868.5,152.8 868.9,152.2 869.4,152.7 869.8,155.2 870.3,154.5 870.7,152.4 871.2,155.0 871.6,153.3 872.1,154.8 872.5,153.6 873.0,154.2 873.4,152.7 873.9,155.6 874.3,152.8 874.8,154.5 875.2,153.9 875.7,154.3 876.1,153.9 876.6,154.0 877.0,153.7 877.5,154.3 877.9,153.1 878.4,153.3 878.8,153.3 879.3,153.9 879.7,153.6 880.2,153.7 880.6,153.4 881.1,154.5 881.5,153.1 882.0,153.2 882.4,154.1 882.9,154.6 883.3,154.3 883.8,153.2 884.2,154.6 884.7,153.0 885.1,154.2 885.6,152.5 886.0,155.0 886.5,155.0 886.9,154.9 887.4,155.1 887.8,154.9 888.3,153.2 888.7,154.4 889.2,154.0 889.6,153.2 890.1,154.1 890.5,154.0 891.0,154.0 891.4,154.5 891.9,154.6 892.3,153.7 892.8,154.0 893.2,153.1 893.7,154.4 894.1,154.5 894.6,154.7 895.0,153.6 895.5,154.3 895.9,153.2 896.4,153.2 896.8,153.9 897.3,154.6 897.7,154.1 898.2,153.6 898.6,154.1 899.1,154.1 899.5,152.7 900.0,155.5 900.4,153.3 900.9,155.5 901.3,153.4 901.8,152.9 902.2,152.6 902.7,152.7 903.1,154.0 903.6,153.7 904.0,153.6 904.5,153.9 904.9,154.3 905.4,154.4 905.8,155.2 906.3,153.2 906.7,154.8 907.2,154.4 907.6,155.2 908.1,153.1 908.5,152.9 909.0,154.0 909.4,153.9 909.9,154.5 910.3,155.4 910.8,154.0 911.2,153.4 911.7,155.3 912.1,152.9 912.6,153.8 913.0,155.4 913.5,154.6 913.9,155.2 914.4,154.8 914.8,154.6 915.3,153.7 915.7,154.3 916.2,154.3 916.6,154.0 917.1,153.7 917.5,152.7 918.0,153.0 918.4,153.6 918.9,153.7 919.3,154.5 919.8,154.4 920.2,154.9 920.7,152.6 921.1,153.5 921.6,155.3 922.0,154.1 922.5,154.3 922.9,152.8 923.4,152.6 923.8,155.0 924.3,155.0 924.7,153.9 925.2,153.9 925.6,153.2 926.1,153.9 926.5,152.9 927.0,152.9 927.4,153.9 927.9,155.2 928.3,154.8 928.8,154.0 929.2,155.2 929.7,152.8 930.1,154.5 930.6,155.1 931.0,153.8 931.5,153.2 931.9,154.6 932.4,153.6 932.8,152.8 933.3,153.5 933.7,155.2 934.2,154.5 934.6,153.7 935.1,154.2 935.5,154.4 936.0,154.3 936.4,152.5 936.9,152.5 937.3,153.1 937.8,153.4 938.2,153.5 938.7,153.0 939.1,153.3 939.6,155.3 940.0,155.4 940.5,152.9 940.9,153.1 941.4,153.4 941.8,154.3 942.3,153.5 942.7,153.3 943.2,153.3" fill="none" stroke="#ff0000" stroke-opacity="0.26" stroke-width="1.0" stroke-linejoin="round"/>
<polyline points="640.0,155.0 640.6,155.4 641.1,154.5 641.7,154.7 642.3,154.6 642.9,154.7 643.4,155.0 644.0,152.9 644.6,155.3 645.1,153.8 645.7,155.3 646.3,154.7 646.8,153.0 647.4,153.5 648.0,153.6 648.6,155.2 649.1,155.1 649.7,152.9 650.3,154.8 650.8,155.4 651.4,153.3 652.0,155.2 652.5,154.0 653.1,153.0 653.7,154.5 654.3,153.0 654.8,155.4 655.4,154.1 656.0,154.4 656.5,154.4 657.1,153.7 657.7,153.7 658.2,154.9 658.8,153.1 659.4,153.8 660.0,153.3 660.5,152.8 661.1,153.5 661.7,154.7 662.2,154.8 662.8,154.1 663.4,153.7 663.9,153.0 664.5,153.2 665.1,155.5 665.7,154.5 666.2,154.1 666.8,153.8 667.4,154.9 667.9,153.7 668.5,153.6 669.1,153.8 669.6,152.9 670.2,154.9 670.8,155.1 671.4,153.9 671.9,152.8 672.5,152.8 673.1,154.2 673.6,152.8 674.2,154.8 674.8,153.2 675.3,154.0 675.9,154.8 676.5,154.5 677.1,154.4 677.6,154.4 678.2,155.3 678.8,154.9 679.3,153.2 679.9,153.0 680.5,153.4 681.0,153.3 681.6,153.3 682.2,154.7 682.8,155.2 683.3,153.4 683.9,153.2 684.5,154.2 685.0,153.6 685.6,154.5 686.2,152.8 686.7,154.8 687.3,153.3 687.9,153.5 688.5,154.7 689.0,153.5 689.6,155.2 690.2,155.2 690.7,154.4 691.3,155.1 691.9,153.3 692.4,155.2 693.0,153.6 693.6,153.9 694.2,153.6 694.7,154.2 695.3,153.0 695.9,155.2 696.4,153.5 697.0,154.9 697.6,153.6 698.1,154.5 698.7,153.2 699.3,153.0 699.9,155.0 700.4,154.4 701.0,152.8 701.6,153.8 702.1,152.8 702.7,152.7 703.3,155.4 703.8,153.9 704.4,153.9 705.0,153.9 705.6,154.9 706.1,153.4 706.7,154.5 707.3,154.5 707.8,154.4 708.4,155.7 709.0,152.8 709.5,155.8 710.1,153.9 710.7,152.4 711.3,153.3 711.8,154.9 712.4,153.0 713.0,154.1 713.5,152.1 714.1,154.6 714.7,154.0 715.2,154.4 715.8,155.2 716.4,155.5 717.0,152.8 717.5,155.4 718.1,154.4 718.7,152.7 719.2,153.7 719.8,155.8 720.4,155.6 720.9,155.7 721.5,152.9 722.1,155.4 722.7,154.0 723.2,154.4 723.8,154.1 724.4,154.8 724.9,154.8 725.5,152.7 726.1,152.5 726.6,153.0 727.2,152.8 727.8,155.7 728.4,155.4 728.9,153.1 729.5,155.7 730.1,156.2 730.6,154.6 731.2,152.1 731.8,155.9 732.3,153.7 732.9,155.5 733.5,154.9 734.1,153.7 734.6,152.6 735.2,153.2 735.8,155.3 736.3,152.4 736.9,155.9 737.5,155.7 738.0,154.6 738.6,154.5 739.2,155.2 739.8,155.2 740.3,154.3 740.9,153.6 741.5,154.8 742.0,154.4 742.6,153.6 743.2,155.4 743.7,154.2 744.3,155.1 744.9,155.4 745.5,155.3 746.0,153.8 746.6,152.6 747.2,155.4 747.7,155.3 748.3,153.9 748.9,154.4 749.4,154.4 750.0,154.4 750.6,154.8 751.2,155.7 751.7,155.7 752.3,152.8 752.9,155.8 753.4,152.9 754.0,152.9 754.6,156.0 755.1,152.7 755.7,155.6 756.3,151.8 756.9,153.2 757.4,155.8 758.0,152.5 758.6,156.1 759.1,153.9 759.7,152.2 760.3,152.1 760.8,153.7 761.4,155.4 762.0,152.4 762.6,152.5 763.1,153.5 763.7,155.5 764.3,152.5 764.8,153.0 765.4,152.3 766.0,152.1 766.5,155.2 767.1,154.5 767.7,152.8 768.3,155.0 768.8,155.5 769.4,153.7 770.0,152.4 770.5,154.6 771.1,152.5 771.7,152.5 772.2,156.0 772.8,152.0 773.4,153.2 774.0,155.9 774.5,153.6 775.1,155.5 775.7,154.7 776.2,153.1 776.8,154.5 777.4,153.2 777.9,152.6 778.5,152.6 779.1,154.3 779.7,153.6 780.2,152.6 780.8,152.5 781.4,152.7 781.9,153.1 782.5,155.6 783.1,155.6 783.6,152.1 784.2,151.7 784.8,154.4 785.4,155.4 785.9,152.3 786.5,153.7 787.1,152.6 787.6,153.5 788.2,155.7 788.8,153.5 789.3,155.1 789.9,154.1 790.5,153.5 791.1,152.9 791.6,154.7 792.2,152.4 792.8,154.4 793.3,154.7 793.9,153.0 794.5,154.7 795.0,153.2 795.6,152.3 796.2,154.6 796.8,154.7 797.3,153.9 797.9,153.7 798.5,152.0 799.0,153.0 799.6,152.0 800.2,156.1 800.7,152.4 801.3,156.0 801.9,155.1 802.5,152.9 803.0,154.5 803.6,152.4 804.2,152.8 804.7,154.9 805.3,155.0 805.9,152.4 806.4,153.2 807.0,153.3 807.6,153.4 808.2,154.5 808.7,154.4 809.3,155.1 809.9,153.9 810.4,153.3 811.0,154.2 811.6,154.2 812.1,154.7 812.7,153.6 813.3,153.0 813.9,154.3 814.4,154.2 815.0,153.0 815.6,154.6 816.1,153.3 816.7,153.1 817.3,153.7 817.8,154.7 818.4,153.5 819.0,155.0 819.6,154.8 820.1,153.5 820.7,154.0 821.3,153.2 821.8,153.7 822.4,155.3 823.0,155.0 823.5,154.8 824.1,154.0 824.7,155.3 825.3,152.6 825.8,155.1 826.4,153.8 827.0,154.8 827.5,152.6 828.1,154.4 828.7,154.4 829.2,152.7 829.8,152.8 830.4,153.7 831.0,154.0 831.5,154.5 832.1,155.0 832.7,154.6 833.2,155.1 833.8,153.3 834.4,153.1 834.9,153.0 835.5,154.6 836.1,154.4 836.7,154.1 837.2,154.7 837.8,153.9 838.4,155.4 838.9,152.5 839.5,154.2 840.1,153.4 840.6,153.8 841.2,154.0 841.8,155.2 842.4,153.0 842.9,152.8 843.5,152.6 844.1,154.7 844.6,154.5 845.2,153.3 845.8,154.0 846.3,153.3 846.9,153.2 847.5,153.6 848.1,152.9 848.6,153.0 849.2,155.0 849.8,153.7 850.3,153.4 850.9,155.1 851.5,155.4 852.0,154.7 852.6,154.6 853.2,155.3 853.8,152.6 854.3,155.4 854.9,154.6 855.5,155.1 856.0,153.1 856.6,153.9 857.2,155.0 857.7,152.6 858.3,152.7 858.9,153.6 859.5,155.3 860.0,154.0 860.6,156.1 861.2,152.7 861.7,153.1 862.3,155.6 862.9,156.0 863.4,155.4 864.0,155.4 864.6,155.4 865.2,155.8 865.7,153.0 866.3,153.3 866.9,153.9 867.4,156.0 868.0,152.1 868.6,155.9 869.1,151.8 869.7,155.0 870.3,154.6 870.9,153.7 871.4,155.9 872.0,152.3 872.6,151.9 873.1,155.1 873.7,152.9 874.3,154.5 874.8,154.0 875.4,153.9 876.0,153.5 876.6,154.4 877.1,154.4 877.7,152.7 878.3,154.1 878.8,153.8 879.4,154.3 880.0,152.7 880.5,154.3 881.1,155.2 881.7,153.5 882.3,154.5 882.8,153.6 883.4,153.8 884.0,152.7 884.5,153.2 885.1,153.3 885.7,153.9 886.2,153.8 886.8,155.0 887.4,154.5 888.0,153.8 888.5,153.3 889.1,155.0 889.7,152.7 890.2,153.7 890.8,152.8 891.4,154.3 891.9,154.2 892.5,153.8 893.1,153.3 893.7,153.6 894.2,153.7 894.8,154.6 895.4,153.4 895.9,152.7 896.5,155.0 897.1,154.1 897.6,152.8 898.2,153.0 898.8,153.1 899.4,152.8 899.9,153.9 900.5,153.1 901.1,153.5 901.6,153.4 902.2,155.2 902.8,153.8 903.3,153.7 903.9,154.6 904.5,152.8 905.1,154.6 905.6,152.9 906.2,154.0 906.8,153.8 907.3,155.1 907.9,153.1 908.5,154.0 909.0,154.9 909.6,153.6 910.2,154.2 910.8,154.5 911.3,154.5 911.9,154.8 912.5,153.4 913.0,154.3 913.6,153.2 914.2,154.4 914.7,152.9 915.3,154.0 915.9,155.3 916.5,155.0 917.0,153.0 917.6,153.8 918.2,155.5 918.7,154.5 919.3,154.5 919.9,154.8 920.4,153.1 921.0,153.6 921.6,155.0 922.2,154.1 922.7,154.1 923.3,153.8 923.9,153.3 924.4,154.2 925.0,153.1 925.6,154.2 926.1,154.8 926.7,155.1 927.3,154.0 927.9,154.2 928.4,153.5 929.0,154.2 929.6,154.2 930.1,155.0 930.7,153.2 931.3,153.0 931.8,152.9 932.4,154.2 933.0,154.0 933.6,154.8 934.1,154.3 934.7,153.9 935.3,153.1 935.8,154.4 936.4,153.7 937.0,153.9 937.5,154.3 938.1,153.2 938.7,152.9 939.3,154.8 939.8,154.1 940.4,154.9 941.0,155.0 941.5,153.0 942.1,154.7 942.7,153.7" fill="none" stroke="#ff0000" stroke-opacity="0.24" stroke-width="1.0" stroke-linejoin="round"/>
<line x1="842.8" y1="154.0" x2="842.8" y2="150.8" stroke="#ff0000" stroke-opacity="0.17" stroke-width="1.3"/>
<line x1="747.1" y1="154.0" x2="747.1" y2="151.6" stroke="#ff0000" stroke-opacity="0.17" stroke-width="1.3"/>
<line x1="805.6" y1="154.0" x2="805.6" y2="156.8" stroke="#ff0000" stroke-opacity="0.17" stroke-width="1.3"/>
<line x1="703.9" y1="154.0" x2="703.9" y2="158.0" stroke="#ff0000" stroke-opacity="0.17" stroke-width="1.3"/>
<line x1="831.4" y1="154.0" x2="831.4" y2="158.3" stroke="#ff0000" stroke-opacity="0.17" stroke-width="1.3"/>
<line x1="797.1" y1="154.0" x2="797.1" y2="151.5" stroke="#ff0000" stroke-opacity="0.17" stroke-width="1.3"/>
<line x1="799.7" y1="154.0" x2="799.7" y2="157.7" stroke="#ff0000" stroke-opacity="0.17" stroke-width="1.3"/>
<line x1="809.8" y1="154.0" x2="809.8" y2="149.9" stroke="#ff0000" stroke-opacity="0.17" stroke-width="1.3"/>
<line x1="760.4" y1="154.0" x2="760.4" y2="151.1" stroke="#ff0000" stroke-opacity="0.17" stroke-width="1.3"/>
<line x1="773.8" y1="154.0" x2="773.8" y2="157.1" stroke="#ff0000" stroke-opacity="0.17" stroke-width="1.3"/>
<line x1="716.9" y1="154.0" x2="716.9" y2="150.2" stroke="#ff0000" stroke-opacity="0.17" stroke-width="1.3"/>
<line x1="843.4" y1="154.0" x2="843.4" y2="149.6" stroke="#ff0000" stroke-opacity="0.17" stroke-width="1.3"/>
<line x1="805.9" y1="154.0" x2="805.9" y2="149.9" stroke="#ff0000" stroke-opacity="0.17" stroke-width="1.3"/>
<line x1="864.3" y1="154.0" x2="864.3" y2="158.3" stroke="#ff0000" stroke-opacity="0.17" stroke-width="1.3"/>
<line x1="863.7" y1="154.0" x2="863.7" y2="150.4" stroke="#ff0000" stroke-opacity="0.17" stroke-width="1.3"/>
<line x1="744.1" y1="154.0" x2="744.1" y2="156.8" stroke="#ff0000" stroke-opacity="0.17" stroke-width="1.3"/>
<line x1="806.0" y1="154.0" x2="806.0" y2="150.7" stroke="#ff0000" stroke-opacity="0.17" stroke-width="1.3"/>
<line x1="822.2" y1="154.0" x2="822.2" y2="151.7" stroke="#ff0000" stroke-opacity="0.17" stroke-width="1.3"/>
<line x1="819.3" y1="154.0" x2="819.3" y2="157.8" stroke="#ff0000" stroke-opacity="0.17" stroke-width="1.3"/>
<line x1="768.4" y1="154.0" x2="768.4" y2="151.7" stroke="#ff0000" stroke-opacity="0.17" stroke-width="1.3"/>
<line x1="737.8" y1="154.0" x2="737.8" y2="151.5" stroke="#ff0000" stroke-opacity="0.17" stroke-width="1.3"/>
<line x1="730.4" y1="154.0" x2="730.4" y2="157.4" stroke="#ff0000" stroke-opacity="0.17" stroke-width="1.3"/>
<line x1="820.8" y1="154.0" x2="820.8" y2="156.9" stroke="#ff0000" stroke-opacity="0.17" stroke-width="1.3"/>
<line x1="794.9" y1="154.0" x2="794.9" y2="156.3" stroke="#ff0000" stroke-opacity="0.17" stroke-width="1.3"/>
<line x1="880.0" y1="154.0" x2="880.0" y2="151.5" stroke="#ff0000" stroke-opacity="0.17" stroke-width="1.3"/>
<line x1="806.9" y1="154.0" x2="806.9" y2="156.2" stroke="#ff0000" stroke-opacity="0.17" stroke-width="1.3"/>
<line x1="779.4" y1="154.0" x2="779.4" y2="149.8" stroke="#ff0000" stroke-opacity="0.17" stroke-width="1.3"/>
<line x1="820.6" y1="154.0" x2="820.6" y2="157.1" stroke="#ff0000" stroke-opacity="0.17" stroke-width="1.3"/>
<line x1="849.6" y1="154.0" x2="849.6" y2="150.7" stroke="#ff0000" stroke-opacity="0.17" stroke-width="1.3"/>
<line x1="784.8" y1="154.0" x2="784.8" y2="158.4" stroke="#ff0000" stroke-opacity="0.17" stroke-width="1.3"/>
<line x1="734.6" y1="154.0" x2="734.6" y2="157.1" stroke="#ff0000" stroke-opacity="0.17" stroke-width="1.3"/>
<line x1="830.1" y1="154.0" x2="830.1" y2="152.0" stroke="#ff0000" stroke-opacity="0.17" stroke-width="1.3"/>
<line x1="796.8" y1="154.0" x2="796.8" y2="157.5" stroke="#ff0000" stroke-opacity="0.17" stroke-width="1.3"/>
<line x1="765.0" y1="154.0" x2="765.0" y2="157.3" stroke="#ff0000" stroke-opacity="0.17" stroke-width="1.3"/>
<line x1="759.3" y1="154.0" x2="759.3" y2="158.5" stroke="#ff0000" stroke-opacity="0.17" stroke-width="1.3"/>
<line x1="866.8" y1="154.0" x2="866.8" y2="157.5" stroke="#ff0000" stroke-opacity="0.17" stroke-width="1.3"/>
<line x1="748.2" y1="154.0" x2="748.2" y2="157.6" stroke="#ff0000" stroke-opacity="0.17" stroke-width="1.3"/>
<line x1="788.6" y1="154.0" x2="788.6" y2="157.2" stroke="#ff0000" stroke-opacity="0.17" stroke-width="1.3"/>
<line x1="814.2" y1="154.0" x2="814.2" y2="156.8" stroke="#ff0000" stroke-opacity="0.17" stroke-width="1.3"/>
<line x1="818.7" y1="154.0" x2="818.7" y2="157.7" stroke="#ff0000" stroke-opacity="0.17" stroke-width="1.3"/>
<line x1="747.8" y1="154.0" x2="747.8" y2="158.4" stroke="#ff0000" stroke-opacity="0.17" stroke-width="1.3"/>
<line x1="831.3" y1="154.0" x2="831.3" y2="149.7" stroke="#ff0000" stroke-opacity="0.17" stroke-width="1.3"/>
<line x1="752.3" y1="154.0" x2="752.3" y2="150.4" stroke="#ff0000" stroke-opacity="0.17" stroke-width="1.3"/>
<line x1="873.6" y1="154.0" x2="873.6" y2="151.9" stroke="#ff0000" stroke-opacity="0.17" stroke-width="1.3"/>
<line x1="839.2" y1="154.0" x2="839.2" y2="150.3" stroke="#ff0000" stroke-opacity="0.17" stroke-width="1.3"/>
<line x1="766.8" y1="154.0" x2="766.8" y2="158.1" stroke="#ff0000" stroke-opacity="0.17" stroke-width="1.3"/>
<line x1="711.2" y1="154.0" x2="711.2" y2="151.6" stroke="#ff0000" stroke-opacity="0.17" stroke-width="1.3"/>
<line x1="748.5" y1="154.0" x2="748.5" y2="150.9" stroke="#ff0000" stroke-opacity="0.17" stroke-width="1.3"/>
<line x1="840.8" y1="154.0" x2="840.8" y2="156.2" stroke="#ff0000" stroke-opacity="0.17" stroke-width="1.3"/>
<line x1="741.8" y1="154.0" x2="741.8" y2="156.9" stroke="#ff0000" stroke-opacity="0.17" stroke-width="1.3"/>
<line x1="726.1" y1="154.0" x2="726.1" y2="150.5" stroke="#ff0000" stroke-opacity="0.17" stroke-width="1.3"/>
<line x1="726.0" y1="154.0" x2="726.0" y2="150.2" stroke="#ff0000" stroke-opacity="0.17" stroke-width="1.3"/>
<line x1="708.1" y1="154.0" x2="708.1" y2="157.2" stroke="#ff0000" stroke-opacity="0.17" stroke-width="1.3"/>
<line x1="861.9" y1="154.0" x2="861.9" y2="150.2" stroke="#ff0000" stroke-opacity="0.17" stroke-width="1.3"/>
<line x1="722.9" y1="154.0" x2="722.9" y2="151.6" stroke="#ff0000" stroke-opacity="0.17" stroke-width="1.3"/>
<line x1="813.6" y1="154.0" x2="813.6" y2="158.3" stroke="#ff0000" stroke-opacity="0.17" stroke-width="1.3"/>
<line x1="860.8" y1="154.0" x2="860.8" y2="157.2" stroke="#ff0000" stroke-opacity="0.17" stroke-width="1.3"/>
<line x1="703.7" y1="154.0" x2="703.7" y2="150.0" stroke="#ff0000" stroke-opacity="0.17" stroke-width="1.3"/>
<line x1="734.0" y1="154.0" x2="734.0" y2="157.2" stroke="#ff0000" stroke-opacity="0.17" stroke-width="1.3"/>
<line x1="779.1" y1="154.0" x2="779.1" y2="157.2" stroke="#ff0000" stroke-opacity="0.17" stroke-width="1.3"/>
<line x1="723.6" y1="154.3" x2="723.6" y2="136.5" stroke="#ff0000" stroke-opacity="0.22" stroke-width="1.4"/>
<line x1="723.9" y1="154.3" x2="723.9" y2="158.5" stroke="#ff0000" stroke-opacity="0.22" stroke-width="1.4"/>
<line x1="734.2" y1="154.3" x2="734.2" y2="125.8" stroke="#ff0000" stroke-opacity="0.22" stroke-width="1.4"/>
<line x1="737.4" y1="154.3" x2="737.4" y2="164.8" stroke="#ff0000" stroke-opacity="0.22" stroke-width="1.4"/>
<line x1="739.5" y1="154.3" x2="739.5" y2="94.8" stroke="#ff0000" stroke-opacity="0.22" stroke-width="1.4"/>
<line x1="740.6" y1="154.3" x2="740.6" y2="160.9" stroke="#ff0000" stroke-opacity="0.22" stroke-width="1.4"/>
<line x1="741.7" y1="154.3" x2="741.7" y2="161.7" stroke="#ff0000" stroke-opacity="0.22" stroke-width="1.4"/>
<line x1="747.3" y1="154.3" x2="747.3" y2="145.4" stroke="#ff0000" stroke-opacity="0.22" stroke-width="1.4"/>
<line x1="748.4" y1="154.3" x2="748.4" y2="172.8" stroke="#ff0000" stroke-opacity="0.22" stroke-width="1.4"/>
<line x1="750.3" y1="154.3" x2="750.3" y2="166.4" stroke="#ff0000" stroke-opacity="0.22" stroke-width="1.4"/>
<line x1="751.3" y1="154.3" x2="751.3" y2="140.2" stroke="#ff0000" stroke-opacity="0.22" stroke-width="1.4"/>
<line x1="753.5" y1="154.3" x2="753.5" y2="139.0" stroke="#ff0000" stroke-opacity="0.22" stroke-width="1.4"/>
<line x1="759.2" y1="154.3" x2="759.2" y2="147.0" stroke="#ff0000" stroke-opacity="0.22" stroke-width="1.4"/>
<line x1="761.1" y1="154.3" x2="761.1" y2="162.0" stroke="#ff0000" stroke-opacity="0.22" stroke-width="1.4"/>
<line x1="765.3" y1="154.3" x2="765.3" y2="111.5" stroke="#ff0000" stroke-opacity="0.22" stroke-width="1.4"/>
<line x1="765.6" y1="154.3" x2="765.6" y2="165.2" stroke="#ff0000" stroke-opacity="0.22" stroke-width="1.4"/>
<line x1="772.9" y1="154.3" x2="772.9" y2="141.3" stroke="#ff0000" stroke-opacity="0.22" stroke-width="1.4"/>
<line x1="775.2" y1="154.3" x2="775.2" y2="144.9" stroke="#ff0000" stroke-opacity="0.22" stroke-width="1.4"/>
<line x1="778.3" y1="154.3" x2="778.3" y2="149.2" stroke="#ff0000" stroke-opacity="0.22" stroke-width="1.4"/>
<line x1="786.8" y1="154.3" x2="786.8" y2="145.4" stroke="#ff0000" stroke-opacity="0.22" stroke-width="1.4"/>
<line x1="789.2" y1="154.3" x2="789.2" y2="159.3" stroke="#ff0000" stroke-opacity="0.22" stroke-width="1.4"/>
<line x1="801.0" y1="154.3" x2="801.0" y2="131.1" stroke="#ff0000" stroke-opacity="0.22" stroke-width="1.4"/>
<line x1="806.3" y1="154.3" x2="806.3" y2="241.5" stroke="#ff0000" stroke-opacity="0.22" stroke-width="1.4"/>
<line x1="813.5" y1="154.3" x2="813.5" y2="143.5" stroke="#ff0000" stroke-opacity="0.22" stroke-width="1.4"/>
<line x1="813.8" y1="154.3" x2="813.8" y2="161.7" stroke="#ff0000" stroke-opacity="0.22" stroke-width="1.4"/>
<line x1="818.3" y1="154.3" x2="818.3" y2="134.7" stroke="#ff0000" stroke-opacity="0.22" stroke-width="1.4"/>
<line x1="823.0" y1="154.3" x2="823.0" y2="146.6" stroke="#ff0000" stroke-opacity="0.22" stroke-width="1.4"/>
<line x1="825.4" y1="154.3" x2="825.4" y2="142.6" stroke="#ff0000" stroke-opacity="0.22" stroke-width="1.4"/>
<line x1="832.1" y1="154.3" x2="832.1" y2="176.0" stroke="#ff0000" stroke-opacity="0.22" stroke-width="1.4"/>
<line x1="835.5" y1="154.3" x2="835.5" y2="161.0" stroke="#ff0000" stroke-opacity="0.22" stroke-width="1.4"/>
<line x1="839.8" y1="154.3" x2="839.8" y2="142.6" stroke="#ff0000" stroke-opacity="0.22" stroke-width="1.4"/>
<line x1="848.6" y1="154.3" x2="848.6" y2="142.6" stroke="#ff0000" stroke-opacity="0.22" stroke-width="1.4"/>
<line x1="859.4" y1="154.3" x2="859.4" y2="147.8" stroke="#ff0000" stroke-opacity="0.22" stroke-width="1.4"/>
<line x1="870.8" y1="154.3" x2="870.8" y2="143.5" stroke="#ff0000" stroke-opacity="0.22" stroke-width="1.4"/>
<line x1="712.0" y1="154.3" x2="712.0" y2="150.0" stroke="#ff0000" stroke-opacity="0.22" stroke-width="1.4"/>
<line x1="717.0" y1="154.3" x2="717.0" y2="158.0" stroke="#ff0000" stroke-opacity="0.22" stroke-width="1.4"/>
<line x1="728.0" y1="154.3" x2="728.0" y2="150.0" stroke="#ff0000" stroke-opacity="0.22" stroke-width="1.4"/>
<line x1="795.0" y1="154.3" x2="795.0" y2="149.0" stroke="#ff0000" stroke-opacity="0.22" stroke-width="1.4"/>
<line x1="809.0" y1="154.3" x2="809.0" y2="149.0" stroke="#ff0000" stroke-opacity="0.22" stroke-width="1.4"/>
<line x1="844.0" y1="154.3" x2="844.0" y2="159.0" stroke="#ff0000" stroke-opacity="0.22" stroke-width="1.4"/>
<line x1="853.0" y1="154.3" x2="853.0" y2="150.0" stroke="#ff0000" stroke-opacity="0.22" stroke-width="1.4"/>
<line x1="864.0" y1="154.3" x2="864.0" y2="158.0" stroke="#ff0000" stroke-opacity="0.22" stroke-width="1.4"/>
<rect x="597.7" y="46.1" width="418.90" height="216.60" fill="none" stroke="#000" stroke-opacity="0.19" stroke-width="1.4"/>
<line x1="666.56" y1="262.70" x2="666.56" y2="257.50" stroke="#000" stroke-opacity="0.13" stroke-width="1.6"/>
<line x1="666.56" y1="46.10" x2="666.56" y2="51.30" stroke="#000" stroke-opacity="0.13" stroke-width="1.6"/>
<line x1="736.52" y1="262.70" x2="736.52" y2="257.50" stroke="#000" stroke-opacity="0.13" stroke-width="1.6"/>
<line x1="736.52" y1="46.10" x2="736.52" y2="51.30" stroke="#000" stroke-opacity="0.13" stroke-width="1.6"/>
<line x1="806.48" y1="262.70" x2="806.48" y2="257.50" stroke="#000" stroke-opacity="0.13" stroke-width="1.6"/>
<line x1="806.48" y1="46.10" x2="806.48" y2="51.30" stroke="#000" stroke-opacity="0.13" stroke-width="1.6"/>
<line x1="876.44" y1="262.70" x2="876.44" y2="257.50" stroke="#000" stroke-opacity="0.13" stroke-width="1.6"/>
<line x1="876.44" y1="46.10" x2="876.44" y2="51.30" stroke="#000" stroke-opacity="0.13" stroke-width="1.6"/>
<line x1="946.40" y1="262.70" x2="946.40" y2="257.50" stroke="#000" stroke-opacity="0.13" stroke-width="1.6"/>
<line x1="946.40" y1="46.10" x2="946.40" y2="51.30" stroke="#000" stroke-opacity="0.13" stroke-width="1.6"/>
<line x1="597.70" y1="87.10" x2="602.90" y2="87.10" stroke="#000" stroke-opacity="0.13" stroke-width="1.6"/>
<line x1="1016.60" y1="87.10" x2="1011.40" y2="87.10" stroke="#000" stroke-opacity="0.13" stroke-width="1.6"/>
<line x1="597.70" y1="155.00" x2="602.90" y2="155.00" stroke="#000" stroke-opacity="0.13" stroke-width="1.6"/>
<line x1="1016.60" y1="155.00" x2="1011.40" y2="155.00" stroke="#000" stroke-opacity="0.13" stroke-width="1.6"/>
<line x1="597.70" y1="222.90" x2="602.90" y2="222.90" stroke="#000" stroke-opacity="0.13" stroke-width="1.6"/>
<line x1="1016.60" y1="222.90" x2="1011.40" y2="222.90" stroke="#000" stroke-opacity="0.13" stroke-width="1.6"/>
</g>
<rect x="311.3" y="45.2" width="199.30" height="35.00" fill="#fff" stroke="#000" stroke-opacity="0.26" stroke-width="1.1"/>
<line x1="320.4" y1="62.5" x2="362.7" y2="62.5" stroke="#0000ff" stroke-opacity="0.22" stroke-width="1.2"/>
<rect x="810.5" y="46.0" width="206.10" height="35.40" fill="#fff" stroke="#000" stroke-opacity="0.26" stroke-width="1.1"/>
<line x1="819.7" y1="63.4" x2="862.3" y2="63.4" stroke="#ff0000" stroke-opacity="0.24" stroke-width="1.2"/>
<g id="plot-c">
<rect x="73.5" y="325.5" width="942.30" height="229.90" fill="none" stroke="#000" stroke-opacity="0.19" stroke-width="1.4"/>
<line x1="87.60" y1="555.40" x2="87.60" y2="546.40" stroke="#000" stroke-opacity="0.13" stroke-width="1.6"/>
<line x1="87.60" y1="325.50" x2="87.60" y2="334.50" stroke="#000" stroke-opacity="0.13" stroke-width="1.6"/>
<line x1="190.76" y1="555.40" x2="190.76" y2="546.40" stroke="#000" stroke-opacity="0.13" stroke-width="1.6"/>
<line x1="190.76" y1="325.50" x2="190.76" y2="334.50" stroke="#000" stroke-opacity="0.13" stroke-width="1.6"/>
<line x1="293.91" y1="555.40" x2="293.91" y2="546.40" stroke="#000" stroke-opacity="0.13" stroke-width="1.6"/>
<line x1="293.91" y1="325.50" x2="293.91" y2="334.50" stroke="#000" stroke-opacity="0.13" stroke-width="1.6"/>
<line x1="397.07" y1="555.40" x2="397.07" y2="546.40" stroke="#000" stroke-opacity="0.13" stroke-width="1.6"/>
<line x1="397.07" y1="325.50" x2="397.07" y2="334.50" stroke="#000" stroke-opacity="0.13" stroke-width="1.6"/>
<line x1="500.22" y1="555.40" x2="500.22" y2="546.40" stroke="#000" stroke-opacity="0.13" stroke-width="1.6"/>
<line x1="500.22" y1="325.50" x2="500.22" y2="334.50" stroke="#000" stroke-opacity="0.13" stroke-width="1.6"/>
<line x1="603.38" y1="555.40" x2="603.38" y2="546.40" stroke="#000" stroke-opacity="0.13" stroke-width="1.6"/>
<line x1="603.38" y1="325.50" x2="603.38" y2="334.50" stroke="#000" stroke-opacity="0.13" stroke-width="1.6"/>
<line x1="706.53" y1="555.40" x2="706.53" y2="546.40" stroke="#000" stroke-opacity="0.13" stroke-width="1.6"/>
<line x1="706.53" y1="325.50" x2="706.53" y2="334.50" stroke="#000" stroke-opacity="0.13" stroke-width="1.6"/>
<line x1="809.69" y1="555.40" x2="809.69" y2="546.40" stroke="#000" stroke-opacity="0.13" stroke-width="1.6"/>
<line x1="809.69" y1="325.50" x2="809.69" y2="334.50" stroke="#000" stroke-opacity="0.13" stroke-width="1.6"/>
<line x1="912.84" y1="555.40" x2="912.84" y2="546.40" stroke="#000" stroke-opacity="0.13" stroke-width="1.6"/>
<line x1="912.84" y1="325.50" x2="912.84" y2="334.50" stroke="#000" stroke-opacity="0.13" stroke-width="1.6"/>
<line x1="73.50" y1="367.40" x2="82.50" y2="367.40" stroke="#000" stroke-opacity="0.13" stroke-width="1.6"/>
<line x1="1015.80" y1="367.40" x2="1006.80" y2="367.40" stroke="#000" stroke-opacity="0.13" stroke-width="1.6"/>
<line x1="73.50" y1="445.90" x2="82.50" y2="445.90" stroke="#000" stroke-opacity="0.13" stroke-width="1.6"/>
<line x1="1015.80" y1="445.90" x2="1006.80" y2="445.90" stroke="#000" stroke-opacity="0.13" stroke-width="1.6"/>
<line x1="73.50" y1="524.40" x2="82.50" y2="524.40" stroke="#000" stroke-opacity="0.13" stroke-width="1.6"/>
<line x1="1015.80" y1="524.40" x2="1006.80" y2="524.40" stroke="#000" stroke-opacity="0.13" stroke-width="1.6"/>
<rect x="320.1" y="443.7" width="9.4" height="9.4" fill="none" stroke="#0000ff" stroke-opacity="0.26" stroke-width="1.0"/>
<rect x="325.5" y="438.0" width="9.4" height="9.4" fill="none" stroke="#0000ff" stroke-opacity="0.26" stroke-width="1.0"/>
<rect x="338.5" y="441.2" width="9.4" height="9.4" fill="none" stroke="#0000ff" stroke-opacity="0.26" stroke-width="1.0"/>
<rect x="340.5" y="445.6" width="9.4" height="9.4" fill="none" stroke="#0000ff" stroke-opacity="0.26" stroke-width="1.0"/>
<rect x="351.9" y="439.5" width="9.4" height="9.4" fill="none" stroke="#0000ff" stroke-opacity="0.26" stroke-width="1.0"/>
<rect x="363.0" y="448.2" width="9.4" height="9.4" fill="none" stroke="#0000ff" stroke-opacity="0.26" stroke-width="1.0"/>
<rect x="366.2" y="458.7" width="9.4" height="9.4" fill="none" stroke="#0000ff" stroke-opacity="0.26" stroke-width="1.0"/>
<rect x="382.4" y="434.8" width="9.4" height="9.4" fill="none" stroke="#0000ff" stroke-opacity="0.26" stroke-width="1.0"/>
<rect x="387.2" y="443.7" width="9.4" height="9.4" fill="none" stroke="#0000ff" stroke-opacity="0.26" stroke-width="1.0"/>
<rect x="395.2" y="434.8" width="9.4" height="9.4" fill="none" stroke="#0000ff" stroke-opacity="0.26" stroke-width="1.0"/>
<rect x="398.7" y="440.5" width="9.4" height="9.4" fill="none" stroke="#0000ff" stroke-opacity="0.26" stroke-width="1.0"/>
<rect x="401.9" y="443.1" width="9.4" height="9.4" fill="none" stroke="#0000ff" stroke-opacity="0.26" stroke-width="1.0"/>
<rect x="406.3" y="453.7" width="9.4" height="9.4" fill="none" stroke="#0000ff" stroke-opacity="0.26" stroke-width="1.0"/>
<rect x="402.7" y="460.0" width="9.4" height="9.4" fill="none" stroke="#0000ff" stroke-opacity="0.26" stroke-width="1.0"/>
<rect x="464.3" y="414.5" width="9.4" height="9.4" fill="none" stroke="#0000ff" stroke-opacity="0.26" stroke-width="1.0"/>
<rect x="425.7" y="421.2" width="9.4" height="9.4" fill="none" stroke="#0000ff" stroke-opacity="0.26" stroke-width="1.0"/>
<rect x="442.4" y="430.1" width="9.4" height="9.4" fill="none" stroke="#0000ff" stroke-opacity="0.26" stroke-width="1.0"/>
<rect x="445.3" y="431.7" width="9.4" height="9.4" fill="none" stroke="#0000ff" stroke-opacity="0.26" stroke-width="1.0"/>
<rect x="458.7" y="428.4" width="9.4" height="9.4" fill="none" stroke="#0000ff" stroke-opacity="0.26" stroke-width="1.0"/>
<rect x="453.6" y="435.5" width="9.4" height="9.4" fill="none" stroke="#0000ff" stroke-opacity="0.26" stroke-width="1.0"/>
<rect x="446.9" y="448.0" width="9.4" height="9.4" fill="none" stroke="#0000ff" stroke-opacity="0.26" stroke-width="1.0"/>
<rect x="465.4" y="447.3" width="9.4" height="9.4" fill="none" stroke="#0000ff" stroke-opacity="0.26" stroke-width="1.0"/>
<rect x="424.1" y="450.2" width="9.4" height="9.4" fill="none" stroke="#0000ff" stroke-opacity="0.26" stroke-width="1.0"/>
<rect x="427.9" y="450.2" width="9.4" height="9.4" fill="none" stroke="#0000ff" stroke-opacity="0.26" stroke-width="1.0"/>
<rect x="431.9" y="454.5" width="9.4" height="9.4" fill="none" stroke="#0000ff" stroke-opacity="0.26" stroke-width="1.0"/>
<rect x="435.3" y="458.9" width="9.4" height="9.4" fill="none" stroke="#0000ff" stroke-opacity="0.26" stroke-width="1.0"/>
<rect x="477.0" y="468.1" width="9.4" height="9.4" fill="none" stroke="#0000ff" stroke-opacity="0.26" stroke-width="1.0"/>
<rect x="482.6" y="477.5" width="9.4" height="9.4" fill="none" stroke="#0000ff" stroke-opacity="0.26" stroke-width="1.0"/>
<rect x="478.1" y="486.8" width="9.4" height="9.4" fill="none" stroke="#0000ff" stroke-opacity="0.26" stroke-width="1.0"/>
<rect x="501.8" y="432.0" width="9.4" height="9.4" fill="none" stroke="#0000ff" stroke-opacity="0.26" stroke-width="1.0"/>
<rect x="505.0" y="442.5" width="9.4" height="9.4" fill="none" stroke="#0000ff" stroke-opacity="0.26" stroke-width="1.0"/>
<rect x="515.7" y="445.7" width="9.4" height="9.4" fill="none" stroke="#0000ff" stroke-opacity="0.26" stroke-width="1.0"/>
<rect x="523.4" y="443.5" width="9.4" height="9.4" fill="none" stroke="#0000ff" stroke-opacity="0.26" stroke-width="1.0"/>
<rect x="535.2" y="433.9" width="9.4" height="9.4" fill="none" stroke="#0000ff" stroke-opacity="0.26" stroke-width="1.0"/>
<rect x="539.4" y="452.0" width="9.4" height="9.4" fill="none" stroke="#0000ff" stroke-opacity="0.26" stroke-width="1.0"/>
<rect x="543.8" y="436.7" width="9.4" height="9.4" fill="none" stroke="#0000ff" stroke-opacity="0.26" stroke-width="1.0"/>
<rect x="548.2" y="448.8" width="9.4" height="9.4" fill="none" stroke="#0000ff" stroke-opacity="0.26" stroke-width="1.0"/>
<rect x="561.0" y="446.9" width="9.4" height="9.4" fill="none" stroke="#0000ff" stroke-opacity="0.26" stroke-width="1.0"/>
<rect x="565.2" y="446.9" width="9.4" height="9.4" fill="none" stroke="#0000ff" stroke-opacity="0.26" stroke-width="1.0"/>
<rect x="565.2" y="431.0" width="9.4" height="9.4" fill="none" stroke="#0000ff" stroke-opacity="0.26" stroke-width="1.0"/>
<rect x="575.9" y="429.1" width="9.4" height="9.4" fill="none" stroke="#0000ff" stroke-opacity="0.26" stroke-width="1.0"/>
<rect x="580.5" y="436.2" width="9.4" height="9.4" fill="none" stroke="#0000ff" stroke-opacity="0.26" stroke-width="1.0"/>
<rect x="582.6" y="443.5" width="9.4" height="9.4" fill="none" stroke="#0000ff" stroke-opacity="0.26" stroke-width="1.0"/>
<rect x="592.1" y="444.4" width="9.4" height="9.4" fill="none" stroke="#0000ff" stroke-opacity="0.26" stroke-width="1.0"/>
<rect x="635.2" y="402.5" width="9.4" height="9.4" fill="none" stroke="#0000ff" stroke-opacity="0.26" stroke-width="1.0"/>
<rect x="616.9" y="421.3" width="9.4" height="9.4" fill="none" stroke="#0000ff" stroke-opacity="0.26" stroke-width="1.0"/>
<rect x="629.6" y="427.7" width="9.4" height="9.4" fill="none" stroke="#0000ff" stroke-opacity="0.26" stroke-width="1.0"/>
<rect x="637.3" y="430.1" width="9.4" height="9.4" fill="none" stroke="#0000ff" stroke-opacity="0.26" stroke-width="1.0"/>
<rect x="642.5" y="432.1" width="9.4" height="9.4" fill="none" stroke="#0000ff" stroke-opacity="0.26" stroke-width="1.0"/>
<rect x="647.3" y="442.3" width="9.4" height="9.4" fill="none" stroke="#0000ff" stroke-opacity="0.26" stroke-width="1.0"/>
<rect x="651.1" y="442.3" width="9.4" height="9.4" fill="none" stroke="#0000ff" stroke-opacity="0.26" stroke-width="1.0"/>
<rect x="654.5" y="448.0" width="9.4" height="9.4" fill="none" stroke="#0000ff" stroke-opacity="0.26" stroke-width="1.0"/>
<rect x="659.9" y="446.8" width="9.4" height="9.4" fill="none" stroke="#0000ff" stroke-opacity="0.26" stroke-width="1.0"/>
<rect x="649.2" y="459.8" width="9.4" height="9.4" fill="none" stroke="#0000ff" stroke-opacity="0.26" stroke-width="1.0"/>
<rect x="673.9" y="440.1" width="9.4" height="9.4" fill="none" stroke="#0000ff" stroke-opacity="0.26" stroke-width="1.0"/>
<rect x="679.5" y="434.5" width="9.4" height="9.4" fill="none" stroke="#0000ff" stroke-opacity="0.26" stroke-width="1.0"/>
<rect x="685.8" y="433.2" width="9.4" height="9.4" fill="none" stroke="#0000ff" stroke-opacity="0.26" stroke-width="1.0"/>
<rect x="690.1" y="443.6" width="9.4" height="9.4" fill="none" stroke="#0000ff" stroke-opacity="0.26" stroke-width="1.0"/>
<rect x="697.4" y="457.9" width="9.4" height="9.4" fill="none" stroke="#0000ff" stroke-opacity="0.26" stroke-width="1.0"/>
<rect x="704.6" y="439.6" width="9.4" height="9.4" fill="none" stroke="#0000ff" stroke-opacity="0.26" stroke-width="1.0"/>
<rect x="707.3" y="438.8" width="9.4" height="9.4" fill="none" stroke="#0000ff" stroke-opacity="0.26" stroke-width="1.0"/>
<rect x="718.0" y="457.7" width="9.4" height="9.4" fill="none" stroke="#0000ff" stroke-opacity="0.26" stroke-width="1.0"/>
<rect x="717.3" y="442.0" width="9.4" height="9.4" fill="none" stroke="#0000ff" stroke-opacity="0.26" stroke-width="1.0"/>
<rect x="723.5" y="441.3" width="9.4" height="9.4" fill="none" stroke="#0000ff" stroke-opacity="0.26" stroke-width="1.0"/>
<rect x="740.7" y="432.2" width="9.4" height="9.4" fill="none" stroke="#0000ff" stroke-opacity="0.26" stroke-width="1.0"/>
<rect x="751.4" y="429.1" width="9.4" height="9.4" fill="none" stroke="#0000ff" stroke-opacity="0.26" stroke-width="1.0"/>
<rect x="738.8" y="445.1" width="9.4" height="9.4" fill="none" stroke="#0000ff" stroke-opacity="0.26" stroke-width="1.0"/>
<rect x="750.3" y="446.3" width="9.4" height="9.4" fill="none" stroke="#0000ff" stroke-opacity="0.26" stroke-width="1.0"/>
<rect x="757.4" y="444.1" width="9.4" height="9.4" fill="none" stroke="#0000ff" stroke-opacity="0.26" stroke-width="1.0"/>
<rect x="761.0" y="446.0" width="9.4" height="9.4" fill="none" stroke="#0000ff" stroke-opacity="0.26" stroke-width="1.0"/>
<rect x="766.0" y="435.5" width="9.4" height="9.4" fill="none" stroke="#0000ff" stroke-opacity="0.26" stroke-width="1.0"/>
<rect x="768.2" y="437.7" width="9.4" height="9.4" fill="none" stroke="#0000ff" stroke-opacity="0.26" stroke-width="1.0"/>
<rect x="771.7" y="444.1" width="9.4" height="9.4" fill="none" stroke="#0000ff" stroke-opacity="0.26" stroke-width="1.0"/>
<rect x="788.2" y="437.4" width="9.4" height="9.4" fill="none" stroke="#0000ff" stroke-opacity="0.26" stroke-width="1.0"/>
<rect x="598.4" y="337.6" width="9.4" height="9.4" fill="none" stroke="#0000ff" stroke-opacity="0.26" stroke-width="1.0"/>
<rect x="386.6" y="408.1" width="9.4" height="9.4" fill="none" stroke="#ff0000" stroke-opacity="0.26" stroke-width="1.0"/>
<rect x="351.9" y="420.2" width="9.4" height="9.4" fill="none" stroke="#ff0000" stroke-opacity="0.26" stroke-width="1.0"/>
<rect x="319.7" y="438.0" width="9.4" height="9.4" fill="none" stroke="#ff0000" stroke-opacity="0.26" stroke-width="1.0"/>
<rect x="325.5" y="434.2" width="9.4" height="9.4" fill="none" stroke="#ff0000" stroke-opacity="0.26" stroke-width="1.0"/>
<rect x="338.5" y="432.6" width="9.4" height="9.4" fill="none" stroke="#ff0000" stroke-opacity="0.26" stroke-width="1.0"/>
<rect x="340.7" y="434.8" width="9.4" height="9.4" fill="none" stroke="#ff0000" stroke-opacity="0.26" stroke-width="1.0"/>
<rect x="354.7" y="437.3" width="9.4" height="9.4" fill="none" stroke="#ff0000" stroke-opacity="0.26" stroke-width="1.0"/>
<rect x="362.8" y="437.3" width="9.4" height="9.4" fill="none" stroke="#ff0000" stroke-opacity="0.26" stroke-width="1.0"/>
<rect x="364.9" y="442.4" width="9.4" height="9.4" fill="none" stroke="#ff0000" stroke-opacity="0.26" stroke-width="1.0"/>
<rect x="366.6" y="444.6" width="9.4" height="9.4" fill="none" stroke="#ff0000" stroke-opacity="0.26" stroke-width="1.0"/>
<rect x="382.4" y="444.6" width="9.4" height="9.4" fill="none" stroke="#ff0000" stroke-opacity="0.26" stroke-width="1.0"/>
<rect x="398.7" y="432.3" width="9.4" height="9.4" fill="none" stroke="#ff0000" stroke-opacity="0.26" stroke-width="1.0"/>
<rect x="401.6" y="431.2" width="9.4" height="9.4" fill="none" stroke="#ff0000" stroke-opacity="0.26" stroke-width="1.0"/>
<rect x="403.8" y="437.3" width="9.4" height="9.4" fill="none" stroke="#ff0000" stroke-opacity="0.26" stroke-width="1.0"/>
<rect x="401.9" y="439.9" width="9.4" height="9.4" fill="none" stroke="#ff0000" stroke-opacity="0.26" stroke-width="1.0"/>
<rect x="403.8" y="447.5" width="9.4" height="9.4" fill="none" stroke="#ff0000" stroke-opacity="0.26" stroke-width="1.0"/>
<rect x="406.3" y="449.4" width="9.4" height="9.4" fill="none" stroke="#ff0000" stroke-opacity="0.26" stroke-width="1.0"/>
<rect x="395.5" y="453.3" width="9.4" height="9.4" fill="none" stroke="#ff0000" stroke-opacity="0.26" stroke-width="1.0"/>
<rect x="402.9" y="371.4" width="9.4" height="9.4" fill="none" stroke="#ff0000" stroke-opacity="0.26" stroke-width="1.0"/>
<rect x="478.1" y="390.4" width="9.4" height="9.4" fill="none" stroke="#ff0000" stroke-opacity="0.26" stroke-width="1.0"/>
<rect x="442.0" y="422.3" width="9.4" height="9.4" fill="none" stroke="#ff0000" stroke-opacity="0.26" stroke-width="1.0"/>
<rect x="435.3" y="425.0" width="9.4" height="9.4" fill="none" stroke="#ff0000" stroke-opacity="0.26" stroke-width="1.0"/>
<rect x="431.9" y="428.8" width="9.4" height="9.4" fill="none" stroke="#ff0000" stroke-opacity="0.26" stroke-width="1.0"/>
<rect x="424.6" y="430.1" width="9.4" height="9.4" fill="none" stroke="#ff0000" stroke-opacity="0.26" stroke-width="1.0"/>
<rect x="425.2" y="437.3" width="9.4" height="9.4" fill="none" stroke="#ff0000" stroke-opacity="0.26" stroke-width="1.0"/>
<rect x="459.8" y="431.3" width="9.4" height="9.4" fill="none" stroke="#ff0000" stroke-opacity="0.26" stroke-width="1.0"/>
<rect x="444.7" y="439.5" width="9.4" height="9.4" fill="none" stroke="#ff0000" stroke-opacity="0.26" stroke-width="1.0"/>
<rect x="446.9" y="442.2" width="9.4" height="9.4" fill="none" stroke="#ff0000" stroke-opacity="0.26" stroke-width="1.0"/>
<rect x="453.6" y="442.2" width="9.4" height="9.4" fill="none" stroke="#ff0000" stroke-opacity="0.26" stroke-width="1.0"/>
<rect x="458.7" y="442.9" width="9.4" height="9.4" fill="none" stroke="#ff0000" stroke-opacity="0.26" stroke-width="1.0"/>
<rect x="465.4" y="439.1" width="9.4" height="9.4" fill="none" stroke="#ff0000" stroke-opacity="0.26" stroke-width="1.0"/>
<rect x="464.3" y="450.0" width="9.4" height="9.4" fill="none" stroke="#ff0000" stroke-opacity="0.26" stroke-width="1.0"/>
<rect x="482.6" y="446.7" width="9.4" height="9.4" fill="none" stroke="#ff0000" stroke-opacity="0.26" stroke-width="1.0"/>
<rect x="477.0" y="454.5" width="9.4" height="9.4" fill="none" stroke="#ff0000" stroke-opacity="0.26" stroke-width="1.0"/>
<rect x="427.5" y="463.4" width="9.4" height="9.4" fill="none" stroke="#ff0000" stroke-opacity="0.26" stroke-width="1.0"/>
<rect x="582.4" y="413.5" width="9.4" height="9.4" fill="none" stroke="#ff0000" stroke-opacity="0.26" stroke-width="1.0"/>
<rect x="500.8" y="424.4" width="9.4" height="9.4" fill="none" stroke="#ff0000" stroke-opacity="0.26" stroke-width="1.0"/>
<rect x="505.0" y="429.5" width="9.4" height="9.4" fill="none" stroke="#ff0000" stroke-opacity="0.26" stroke-width="1.0"/>
<rect x="515.7" y="434.9" width="9.4" height="9.4" fill="none" stroke="#ff0000" stroke-opacity="0.26" stroke-width="1.0"/>
<rect x="523.4" y="435.4" width="9.4" height="9.4" fill="none" stroke="#ff0000" stroke-opacity="0.26" stroke-width="1.0"/>
<rect x="519.9" y="441.9" width="9.4" height="9.4" fill="none" stroke="#ff0000" stroke-opacity="0.26" stroke-width="1.0"/>
<rect x="539.4" y="430.1" width="9.4" height="9.4" fill="none" stroke="#ff0000" stroke-opacity="0.26" stroke-width="1.0"/>
<rect x="535.2" y="435.4" width="9.4" height="9.4" fill="none" stroke="#ff0000" stroke-opacity="0.26" stroke-width="1.0"/>
<rect x="548.2" y="435.4" width="9.4" height="9.4" fill="none" stroke="#ff0000" stroke-opacity="0.26" stroke-width="1.0"/>
<rect x="543.8" y="441.9" width="9.4" height="9.4" fill="none" stroke="#ff0000" stroke-opacity="0.26" stroke-width="1.0"/>
<rect x="549.1" y="446.9" width="9.4" height="9.4" fill="none" stroke="#ff0000" stroke-opacity="0.26" stroke-width="1.0"/>
<rect x="561.0" y="442.5" width="9.4" height="9.4" fill="none" stroke="#ff0000" stroke-opacity="0.26" stroke-width="1.0"/>
<rect x="565.2" y="442.5" width="9.4" height="9.4" fill="none" stroke="#ff0000" stroke-opacity="0.26" stroke-width="1.0"/>
<rect x="577.2" y="444.4" width="9.4" height="9.4" fill="none" stroke="#ff0000" stroke-opacity="0.26" stroke-width="1.0"/>
<rect x="592.1" y="435.4" width="9.4" height="9.4" fill="none" stroke="#ff0000" stroke-opacity="0.26" stroke-width="1.0"/>
<rect x="501.8" y="435.4" width="9.4" height="9.4" fill="none" stroke="#ff0000" stroke-opacity="0.26" stroke-width="1.0"/>
<rect x="635.2" y="417.0" width="9.4" height="9.4" fill="none" stroke="#ff0000" stroke-opacity="0.26" stroke-width="1.0"/>
<rect x="616.9" y="450.0" width="9.4" height="9.4" fill="none" stroke="#ff0000" stroke-opacity="0.26" stroke-width="1.0"/>
<rect x="629.6" y="438.8" width="9.4" height="9.4" fill="none" stroke="#ff0000" stroke-opacity="0.26" stroke-width="1.0"/>
<rect x="637.3" y="445.7" width="9.4" height="9.4" fill="none" stroke="#ff0000" stroke-opacity="0.26" stroke-width="1.0"/>
<rect x="642.5" y="445.7" width="9.4" height="9.4" fill="none" stroke="#ff0000" stroke-opacity="0.26" stroke-width="1.0"/>
<rect x="647.3" y="431.3" width="9.4" height="9.4" fill="none" stroke="#ff0000" stroke-opacity="0.26" stroke-width="1.0"/>
<rect x="649.7" y="431.3" width="9.4" height="9.4" fill="none" stroke="#ff0000" stroke-opacity="0.26" stroke-width="1.0"/>
<rect x="651.3" y="434.8" width="9.4" height="9.4" fill="none" stroke="#ff0000" stroke-opacity="0.26" stroke-width="1.0"/>
<rect x="654.5" y="426.9" width="9.4" height="9.4" fill="none" stroke="#ff0000" stroke-opacity="0.26" stroke-width="1.0"/>
<rect x="659.9" y="429.3" width="9.4" height="9.4" fill="none" stroke="#ff0000" stroke-opacity="0.26" stroke-width="1.0"/>
<rect x="673.9" y="466.7" width="9.4" height="9.4" fill="none" stroke="#ff0000" stroke-opacity="0.26" stroke-width="1.0"/>
<rect x="679.5" y="441.2" width="9.4" height="9.4" fill="none" stroke="#ff0000" stroke-opacity="0.26" stroke-width="1.0"/>
<rect x="685.5" y="449.2" width="9.4" height="9.4" fill="none" stroke="#ff0000" stroke-opacity="0.26" stroke-width="1.0"/>
<rect x="692.2" y="434.5" width="9.4" height="9.4" fill="none" stroke="#ff0000" stroke-opacity="0.26" stroke-width="1.0"/>
<rect x="690.6" y="437.2" width="9.4" height="9.4" fill="none" stroke="#ff0000" stroke-opacity="0.26" stroke-width="1.0"/>
<rect x="697.4" y="427.2" width="9.4" height="9.4" fill="none" stroke="#ff0000" stroke-opacity="0.26" stroke-width="1.0"/>
<rect x="704.1" y="446.8" width="9.4" height="9.4" fill="none" stroke="#ff0000" stroke-opacity="0.26" stroke-width="1.0"/>
<rect x="707.3" y="444.9" width="9.4" height="9.4" fill="none" stroke="#ff0000" stroke-opacity="0.26" stroke-width="1.0"/>
<rect x="723.5" y="426.9" width="9.4" height="9.4" fill="none" stroke="#ff0000" stroke-opacity="0.26" stroke-width="1.0"/>
<rect x="717.3" y="444.8" width="9.4" height="9.4" fill="none" stroke="#ff0000" stroke-opacity="0.26" stroke-width="1.0"/>
<rect x="719.7" y="446.3" width="9.4" height="9.4" fill="none" stroke="#ff0000" stroke-opacity="0.26" stroke-width="1.0"/>
<rect x="742.4" y="437.7" width="9.4" height="9.4" fill="none" stroke="#ff0000" stroke-opacity="0.26" stroke-width="1.0"/>
<rect x="738.8" y="442.7" width="9.4" height="9.4" fill="none" stroke="#ff0000" stroke-opacity="0.26" stroke-width="1.0"/>
<rect x="748.1" y="443.4" width="9.4" height="9.4" fill="none" stroke="#ff0000" stroke-opacity="0.26" stroke-width="1.0"/>
<rect x="751.7" y="438.4" width="9.4" height="9.4" fill="none" stroke="#ff0000" stroke-opacity="0.26" stroke-width="1.0"/>
<rect x="756.7" y="433.4" width="9.4" height="9.4" fill="none" stroke="#ff0000" stroke-opacity="0.26" stroke-width="1.0"/>
<rect x="760.3" y="435.5" width="9.4" height="9.4" fill="none" stroke="#ff0000" stroke-opacity="0.26" stroke-width="1.0"/>
<rect x="763.9" y="439.1" width="9.4" height="9.4" fill="none" stroke="#ff0000" stroke-opacity="0.26" stroke-width="1.0"/>
<rect x="768.2" y="442.0" width="9.4" height="9.4" fill="none" stroke="#ff0000" stroke-opacity="0.26" stroke-width="1.0"/>
<rect x="775.3" y="444.8" width="9.4" height="9.4" fill="none" stroke="#ff0000" stroke-opacity="0.26" stroke-width="1.0"/>
<rect x="788.9" y="427.9" width="9.4" height="9.4" fill="none" stroke="#ff0000" stroke-opacity="0.26" stroke-width="1.0"/>
<rect x="788.2" y="444.8" width="9.4" height="9.4" fill="none" stroke="#ff0000" stroke-opacity="0.26" stroke-width="1.0"/>
<rect x="598.5" y="542.1" width="9.4" height="9.4" fill="none" stroke="#ff0000" stroke-opacity="0.26" stroke-width="1.0"/>
<circle cx="325.0" cy="449.0" r="2.75" fill="#0000ff"/>
<circle cx="330.4" cy="443.3" r="2.75" fill="#0000ff"/>
<circle cx="343.4" cy="446.5" r="2.75" fill="#0000ff"/>
<circle cx="345.4" cy="450.9" r="2.75" fill="#0000ff"/>
<circle cx="356.8" cy="444.8" r="2.75" fill="#0000ff"/>
<circle cx="367.9" cy="453.5" r="2.75" fill="#0000ff"/>
<circle cx="371.1" cy="464.0" r="2.75" fill="#0000ff"/>
<circle cx="387.3" cy="440.1" r="2.75" fill="#0000ff"/>
<circle cx="392.1" cy="449.0" r="2.75" fill="#0000ff"/>
<circle cx="400.1" cy="440.1" r="2.75" fill="#0000ff"/>
<circle cx="403.6" cy="445.8" r="2.75" fill="#0000ff"/>
<circle cx="406.8" cy="448.4" r="2.75" fill="#0000ff"/>
<circle cx="411.2" cy="459.0" r="2.75" fill="#0000ff"/>
<circle cx="407.6" cy="465.3" r="2.75" fill="#0000ff"/>
<circle cx="469.2" cy="419.8" r="2.75" fill="#0000ff"/>
<circle cx="430.6" cy="426.5" r="2.75" fill="#0000ff"/>
<circle cx="447.3" cy="435.4" r="2.75" fill="#0000ff"/>
<circle cx="450.2" cy="437.0" r="2.75" fill="#0000ff"/>
<circle cx="463.6" cy="433.7" r="2.75" fill="#0000ff"/>
<circle cx="458.5" cy="440.8" r="2.75" fill="#0000ff"/>
<circle cx="451.8" cy="453.3" r="2.75" fill="#0000ff"/>
<circle cx="470.3" cy="452.6" r="2.75" fill="#0000ff"/>
<circle cx="429.0" cy="455.5" r="2.75" fill="#0000ff"/>
<circle cx="432.8" cy="455.5" r="2.75" fill="#0000ff"/>
<circle cx="436.8" cy="459.8" r="2.75" fill="#0000ff"/>
<circle cx="440.2" cy="464.2" r="2.75" fill="#0000ff"/>
<circle cx="481.9" cy="473.4" r="2.75" fill="#0000ff"/>
<circle cx="487.5" cy="482.8" r="2.75" fill="#0000ff"/>
<circle cx="483.0" cy="492.1" r="2.75" fill="#0000ff"/>
<circle cx="506.7" cy="437.3" r="2.75" fill="#0000ff"/>
<circle cx="509.9" cy="447.8" r="2.75" fill="#0000ff"/>
<circle cx="520.6" cy="451.0" r="2.75" fill="#0000ff"/>
<circle cx="528.3" cy="448.8" r="2.75" fill="#0000ff"/>
<circle cx="540.1" cy="439.2" r="2.75" fill="#0000ff"/>
<circle cx="544.3" cy="457.3" r="2.75" fill="#0000ff"/>
<circle cx="548.7" cy="442.0" r="2.75" fill="#0000ff"/>
<circle cx="553.1" cy="454.1" r="2.75" fill="#0000ff"/>
<circle cx="565.9" cy="452.2" r="2.75" fill="#0000ff"/>
<circle cx="570.1" cy="452.2" r="2.75" fill="#0000ff"/>
<circle cx="570.1" cy="436.3" r="2.75" fill="#0000ff"/>
<circle cx="580.8" cy="434.4" r="2.75" fill="#0000ff"/>
<circle cx="585.4" cy="441.5" r="2.75" fill="#0000ff"/>
<circle cx="587.5" cy="448.8" r="2.75" fill="#0000ff"/>
<circle cx="597.0" cy="449.7" r="2.75" fill="#0000ff"/>
<circle cx="640.1" cy="407.8" r="2.75" fill="#0000ff"/>
<circle cx="621.8" cy="426.6" r="2.75" fill="#0000ff"/>
<circle cx="634.5" cy="433.0" r="2.75" fill="#0000ff"/>
<circle cx="642.2" cy="435.4" r="2.75" fill="#0000ff"/>
<circle cx="647.4" cy="437.4" r="2.75" fill="#0000ff"/>
<circle cx="652.2" cy="447.6" r="2.75" fill="#0000ff"/>
<circle cx="656.0" cy="447.6" r="2.75" fill="#0000ff"/>
<circle cx="659.4" cy="453.3" r="2.75" fill="#0000ff"/>
<circle cx="664.8" cy="452.1" r="2.75" fill="#0000ff"/>
<circle cx="654.1" cy="465.1" r="2.75" fill="#0000ff"/>
<circle cx="678.8" cy="445.4" r="2.75" fill="#0000ff"/>
<circle cx="684.4" cy="439.8" r="2.75" fill="#0000ff"/>
<circle cx="690.7" cy="438.5" r="2.75" fill="#0000ff"/>
<circle cx="695.0" cy="448.9" r="2.75" fill="#0000ff"/>
<circle cx="702.3" cy="463.2" r="2.75" fill="#0000ff"/>
<circle cx="709.5" cy="444.9" r="2.75" fill="#0000ff"/>
<circle cx="712.2" cy="444.1" r="2.75" fill="#0000ff"/>
<circle cx="722.9" cy="463.0" r="2.75" fill="#0000ff"/>
<circle cx="722.2" cy="447.3" r="2.75" fill="#0000ff"/>
<circle cx="728.4" cy="446.6" r="2.75" fill="#0000ff"/>
<circle cx="745.6" cy="437.5" r="2.75" fill="#0000ff"/>
<circle cx="756.3" cy="434.4" r="2.75" fill="#0000ff"/>
<circle cx="743.7" cy="450.4" r="2.75" fill="#0000ff"/>
<circle cx="755.2" cy="451.6" r="2.75" fill="#0000ff"/>
<circle cx="762.3" cy="449.4" r="2.75" fill="#0000ff"/>
<circle cx="765.9" cy="451.3" r="2.75" fill="#0000ff"/>
<circle cx="770.9" cy="440.8" r="2.75" fill="#0000ff"/>
<circle cx="773.1" cy="443.0" r="2.75" fill="#0000ff"/>
<circle cx="776.6" cy="449.4" r="2.75" fill="#0000ff"/>
<circle cx="793.1" cy="442.7" r="2.75" fill="#0000ff"/>
<circle cx="603.3" cy="342.9" r="2.75" fill="#0000ff"/>
<circle cx="391.5" cy="413.4" r="2.75" fill="#ff0000"/>
<circle cx="356.8" cy="425.5" r="2.75" fill="#ff0000"/>
<circle cx="324.6" cy="443.3" r="2.75" fill="#ff0000"/>
<circle cx="330.4" cy="439.5" r="2.75" fill="#ff0000"/>
<circle cx="343.4" cy="437.9" r="2.75" fill="#ff0000"/>
<circle cx="345.6" cy="440.1" r="2.75" fill="#ff0000"/>
<circle cx="359.6" cy="442.6" r="2.75" fill="#ff0000"/>
<circle cx="367.7" cy="442.6" r="2.75" fill="#ff0000"/>
<circle cx="369.8" cy="447.7" r="2.75" fill="#ff0000"/>
<circle cx="371.5" cy="449.9" r="2.75" fill="#ff0000"/>
<circle cx="387.3" cy="449.9" r="2.75" fill="#ff0000"/>
<circle cx="403.6" cy="437.6" r="2.75" fill="#ff0000"/>
<circle cx="406.5" cy="436.5" r="2.75" fill="#ff0000"/>
<circle cx="408.7" cy="442.6" r="2.75" fill="#ff0000"/>
<circle cx="406.8" cy="445.2" r="2.75" fill="#ff0000"/>
<circle cx="408.7" cy="452.8" r="2.75" fill="#ff0000"/>
<circle cx="411.2" cy="454.7" r="2.75" fill="#ff0000"/>
<circle cx="400.4" cy="458.6" r="2.75" fill="#ff0000"/>
<circle cx="407.8" cy="376.7" r="2.75" fill="#ff0000"/>
<circle cx="483.0" cy="395.7" r="2.75" fill="#ff0000"/>
<circle cx="446.9" cy="427.6" r="2.75" fill="#ff0000"/>
<circle cx="440.2" cy="430.3" r="2.75" fill="#ff0000"/>
<circle cx="436.8" cy="434.1" r="2.75" fill="#ff0000"/>
<circle cx="429.5" cy="435.4" r="2.75" fill="#ff0000"/>
<circle cx="430.1" cy="442.6" r="2.75" fill="#ff0000"/>
<circle cx="464.7" cy="436.6" r="2.75" fill="#ff0000"/>
<circle cx="449.6" cy="444.8" r="2.75" fill="#ff0000"/>
<circle cx="451.8" cy="447.5" r="2.75" fill="#ff0000"/>
<circle cx="458.5" cy="447.5" r="2.75" fill="#ff0000"/>
<circle cx="463.6" cy="448.2" r="2.75" fill="#ff0000"/>
<circle cx="470.3" cy="444.4" r="2.75" fill="#ff0000"/>
<circle cx="469.2" cy="455.3" r="2.75" fill="#ff0000"/>
<circle cx="487.5" cy="452.0" r="2.75" fill="#ff0000"/>
<circle cx="481.9" cy="459.8" r="2.75" fill="#ff0000"/>
<circle cx="432.4" cy="468.7" r="2.75" fill="#ff0000"/>
<circle cx="587.3" cy="418.8" r="2.75" fill="#ff0000"/>
<circle cx="505.7" cy="429.7" r="2.75" fill="#ff0000"/>
<circle cx="509.9" cy="434.8" r="2.75" fill="#ff0000"/>
<circle cx="520.6" cy="440.2" r="2.75" fill="#ff0000"/>
<circle cx="528.3" cy="440.7" r="2.75" fill="#ff0000"/>
<circle cx="524.8" cy="447.2" r="2.75" fill="#ff0000"/>
<circle cx="544.3" cy="435.4" r="2.75" fill="#ff0000"/>
<circle cx="540.1" cy="440.7" r="2.75" fill="#ff0000"/>
<circle cx="553.1" cy="440.7" r="2.75" fill="#ff0000"/>
<circle cx="548.7" cy="447.2" r="2.75" fill="#ff0000"/>
<circle cx="554.0" cy="452.2" r="2.75" fill="#ff0000"/>
<circle cx="565.9" cy="447.8" r="2.75" fill="#ff0000"/>
<circle cx="570.1" cy="447.8" r="2.75" fill="#ff0000"/>
<circle cx="582.1" cy="449.7" r="2.75" fill="#ff0000"/>
<circle cx="597.0" cy="440.7" r="2.75" fill="#ff0000"/>
<circle cx="506.7" cy="440.7" r="2.75" fill="#ff0000"/>
<circle cx="640.1" cy="422.3" r="2.75" fill="#ff0000"/>
<circle cx="621.8" cy="455.3" r="2.75" fill="#ff0000"/>
<circle cx="634.5" cy="444.1" r="2.75" fill="#ff0000"/>
<circle cx="642.2" cy="451.0" r="2.75" fill="#ff0000"/>
<circle cx="647.4" cy="451.0" r="2.75" fill="#ff0000"/>
<circle cx="652.2" cy="436.6" r="2.75" fill="#ff0000"/>
<circle cx="654.6" cy="436.6" r="2.75" fill="#ff0000"/>
<circle cx="656.2" cy="440.1" r="2.75" fill="#ff0000"/>
<circle cx="659.4" cy="432.2" r="2.75" fill="#ff0000"/>
<circle cx="664.8" cy="434.6" r="2.75" fill="#ff0000"/>
<circle cx="678.8" cy="472.0" r="2.75" fill="#ff0000"/>
<circle cx="684.4" cy="446.5" r="2.75" fill="#ff0000"/>
<circle cx="690.4" cy="454.5" r="2.75" fill="#ff0000"/>
<circle cx="697.1" cy="439.8" r="2.75" fill="#ff0000"/>
<circle cx="695.5" cy="442.5" r="2.75" fill="#ff0000"/>
<circle cx="702.3" cy="432.5" r="2.75" fill="#ff0000"/>
<circle cx="709.0" cy="452.1" r="2.75" fill="#ff0000"/>
<circle cx="712.2" cy="450.2" r="2.75" fill="#ff0000"/>
<circle cx="728.4" cy="432.2" r="2.75" fill="#ff0000"/>
<circle cx="722.2" cy="450.1" r="2.75" fill="#ff0000"/>
<circle cx="724.6" cy="451.6" r="2.75" fill="#ff0000"/>
<circle cx="747.3" cy="443.0" r="2.75" fill="#ff0000"/>
<circle cx="743.7" cy="448.0" r="2.75" fill="#ff0000"/>
<circle cx="753.0" cy="448.7" r="2.75" fill="#ff0000"/>
<circle cx="756.6" cy="443.7" r="2.75" fill="#ff0000"/>
<circle cx="761.6" cy="438.7" r="2.75" fill="#ff0000"/>
<circle cx="765.2" cy="440.8" r="2.75" fill="#ff0000"/>
<circle cx="768.8" cy="444.4" r="2.75" fill="#ff0000"/>
<circle cx="773.1" cy="447.3" r="2.75" fill="#ff0000"/>
<circle cx="780.2" cy="450.1" r="2.75" fill="#ff0000"/>
<circle cx="793.8" cy="433.2" r="2.75" fill="#ff0000"/>
<circle cx="793.1" cy="450.1" r="2.75" fill="#ff0000"/>
<circle cx="603.4" cy="547.4" r="2.75" fill="#ff0000"/>
<polyline points="73.5,449.6 200.0,448.3 310.0,447.6 432.0,447.2 437.0,446.0 465.0,446.0 500.0,445.5 610.0,444.5 780.0,444.3 1015.8,441.7" fill="none" stroke="#ff0000" stroke-width="2.3" stroke-linejoin="round"/>
<polyline points="73.5,437.3 200.0,439.0 405.0,440.8 428.4,442.0 465.0,442.0 500.0,442.6 610.0,444.1 698.0,444.4 700.0,445.3 780.0,445.0 1015.8,448.4" fill="none" stroke="#0000ff" stroke-width="2.3" stroke-linejoin="round"/>
<rect x="754.8" y="325.7" width="261.50" height="66.30" fill="#fff" stroke="#000" stroke-opacity="0.26" stroke-width="1.1"/>
<circle cx="785.5" cy="344.2" r="2.8" fill="#0000ff"/>
<circle cx="785.5" cy="374.0" r="2.8" fill="#ff0000"/>
</g>
<text transform="translate(77.50,287.30) scale(0.9,1)" text-anchor="middle" font-size="26.2" stroke="#000" stroke-width="0.24">0</text>
<text transform="translate(149.08,287.30) scale(0.9,1)" text-anchor="middle" font-size="26.2" stroke="#000" stroke-width="0.24">0.2</text>
<text transform="translate(221.16,287.30) scale(0.9,1)" text-anchor="middle" font-size="26.2" stroke="#000" stroke-width="0.24">0.4</text>
<text transform="translate(293.24,287.30) scale(0.9,1)" text-anchor="middle" font-size="26.2" stroke="#000" stroke-width="0.24">0.6</text>
<text transform="translate(365.32,287.30) scale(0.9,1)" text-anchor="middle" font-size="26.2" stroke="#000" stroke-width="0.24">0.8</text>
<text transform="translate(437.40,287.30) scale(0.9,1)" text-anchor="middle" font-size="26.2" stroke="#000" stroke-width="0.24">1</text>
<text transform="translate(511.08,287.30) scale(0.9,1)" text-anchor="middle" font-size="26.2" stroke="#000" stroke-width="0.24">1.2</text>
<text transform="translate(598.30,288.00) scale(0.9,1)" text-anchor="middle" font-size="26.2" stroke="#000" stroke-width="0.24">0</text>
<text transform="translate(666.56,288.00) scale(0.9,1)" text-anchor="middle" font-size="26.2" stroke="#000" stroke-width="0.24">0.2</text>
<text transform="translate(736.52,288.00) scale(0.9,1)" text-anchor="middle" font-size="26.2" stroke="#000" stroke-width="0.24">0.4</text>
<text transform="translate(806.48,288.00) scale(0.9,1)" text-anchor="middle" font-size="26.2" stroke="#000" stroke-width="0.24">0.6</text>
<text transform="translate(876.44,288.00) scale(0.9,1)" text-anchor="middle" font-size="26.2" stroke="#000" stroke-width="0.24">0.8</text>
<text transform="translate(946.40,288.00) scale(0.9,1)" text-anchor="middle" font-size="26.2" stroke="#000" stroke-width="0.24">1</text>
<text transform="translate(87.40,580.80) scale(0.9,1)" text-anchor="middle" font-size="26.2" stroke="#000" stroke-width="0.24">0.1</text>
<text transform="translate(190.56,580.80) scale(0.9,1)" text-anchor="middle" font-size="26.2" stroke="#000" stroke-width="0.24">0.2</text>
<text transform="translate(293.71,580.80) scale(0.9,1)" text-anchor="middle" font-size="26.2" stroke="#000" stroke-width="0.24">0.3</text>
<text transform="translate(396.87,580.80) scale(0.9,1)" text-anchor="middle" font-size="26.2" stroke="#000" stroke-width="0.24">0.4</text>
<text transform="translate(500.02,580.80) scale(0.9,1)" text-anchor="middle" font-size="26.2" stroke="#000" stroke-width="0.24">0.5</text>
<text transform="translate(603.18,580.80) scale(0.9,1)" text-anchor="middle" font-size="26.2" stroke="#000" stroke-width="0.24">0.6</text>
<text transform="translate(706.33,580.80) scale(0.9,1)" text-anchor="middle" font-size="26.2" stroke="#000" stroke-width="0.24">0.7</text>
<text transform="translate(809.49,580.80) scale(0.9,1)" text-anchor="middle" font-size="26.2" stroke="#000" stroke-width="0.24">0.8</text>
<text transform="translate(912.64,580.80) scale(0.9,1)" text-anchor="middle" font-size="26.2" stroke="#000" stroke-width="0.24">0.9</text>
<text transform="translate(1015.80,580.80) scale(0.9,1)" text-anchor="middle" font-size="26.2" stroke="#000" stroke-width="0.24">1</text>
<text transform="translate(72.90,103.60) scale(0.9,1)" text-anchor="end" font-size="26.2" stroke="#000" stroke-width="0.24">50</text>
<text transform="translate(72.90,186.60) scale(0.9,1)" text-anchor="end" font-size="26.2" stroke="#000" stroke-width="0.24">0</text>
<text transform="translate(72.90,270.60) scale(0.9,1)" text-anchor="end" font-size="26.2" stroke="#000" stroke-width="0.24">-50</text>
<text transform="translate(593.40,95.60) scale(0.9,1)" text-anchor="end" font-size="26.2" stroke="#000" stroke-width="0.24">50</text>
<text transform="translate(593.40,163.60) scale(0.9,1)" text-anchor="end" font-size="26.2" stroke="#000" stroke-width="0.24">0</text>
<text transform="translate(593.40,231.80) scale(0.9,1)" text-anchor="end" font-size="26.2" stroke="#000" stroke-width="0.24">-50</text>
<text transform="translate(69.90,376.80) scale(0.9,1)" text-anchor="end" font-size="26.2" stroke="#000" stroke-width="0.24">50</text>
<text transform="translate(69.90,455.20) scale(0.9,1)" text-anchor="end" font-size="26.2" stroke="#000" stroke-width="0.24">0</text>
<text transform="translate(69.90,533.40) scale(0.9,1)" text-anchor="end" font-size="26.2" stroke="#000" stroke-width="0.24">-50</text>
<text transform="translate(342.61,29.30) scale(0.9726,1)" font-size="36" fill="#000" stroke="#000" stroke-width="0.32">Optical Transfer Function</text>
<text transform="translate(82.85,73.40) scale(1.0101,1)" font-size="30" fill="#000" stroke="#000" stroke-width="0.27">a)</text>
<text transform="translate(605.20,76.60) scale(0.9579,1)" font-size="30" fill="#000" stroke="#000" stroke-width="0.27">b)</text>
<text transform="translate(77.54,356.30) scale(1.0195,1)" font-size="30" fill="#000" stroke="#000" stroke-width="0.27">c)</text>
<text transform="translate(367.74,72.20) scale(0.9394,1)" font-size="24" fill="#000" stroke="#000" stroke-width="0.22">Hu=Ethru/Ethr</text>
<text transform="translate(866.82,73.30) scale(0.9608,1)" font-size="24" fill="#000" stroke="#000" stroke-width="0.22">Hd=Ethrd/Edrp</text>
<text transform="translate(811.52,351.70) scale(0.9595,1)" font-size="24" fill="#000" stroke="#000" stroke-width="0.22">Baseline</text>
<text transform="translate(899.24,351.70) scale(0.9283,1)" font-size="24" fill="#000" stroke="#000" stroke-width="0.22">Unit:</text>
<text transform="translate(964.35,351.70) scale(0.9142,1)" font-size="24" fill="#000" stroke="#000" stroke-width="0.22">Hu</text>
<text transform="translate(811.52,383.50) scale(0.9741,1)" font-size="24" fill="#000" stroke="#000" stroke-width="0.22">Detection</text>
<text transform="translate(910.55,383.50) scale(0.9091,1)" font-size="24" fill="#000" stroke="#000" stroke-width="0.22">Unit:</text>
<text transform="translate(975.06,383.50) scale(0.9078,1)" font-size="24" fill="#000" stroke="#000" stroke-width="0.22">Hd</text>
<text transform="translate(198.90,416.80) scale(1.0052,1)" font-size="36" fill="#0000ff" stroke="#0000ff" stroke-width="0.32">y=-7.6x+6.5</text>
<text transform="translate(191.60,507.10) scale(0.9970,1)" font-size="36" fill="#ff0000" stroke="#ff0000" stroke-width="0.32">y=5.2x-2.5</text>
<text transform="translate(197.60,315.20) scale(1.0094,1)" font-size="28.5" fill="#000" stroke="#000" stroke-width="0.26">Wavelength(μm)</text>
<text transform="translate(711.10,317.30) scale(0.9920,1)" font-size="29" fill="#000" stroke="#000" stroke-width="0.26">Wavelength(μm)</text>
<text transform="translate(425.60,616.00) scale(0.9625,1)" font-size="36.5" fill="#000" stroke="#000" stroke-width="0.33">Wavelength(μm)</text>
<text transform="translate(29.40,263.57) rotate(-90) scale(1.0100,1)" font-size="36" fill="#000" stroke="#000" stroke-width="0.32">Ebaseline/Ethr</text>
<text transform="translate(559.70,242.67) rotate(-90) scale(1.0287,1)" font-size="35.5" fill="#000" stroke="#000" stroke-width="0.32">Edtect/Edrp</text>
<text transform="translate(29.10,507.36) rotate(-90) scale(0.9951,1)" font-size="36" fill="#000" stroke="#000" stroke-width="0.32">Eout/Ein</text>
</svg>
</body></html>
